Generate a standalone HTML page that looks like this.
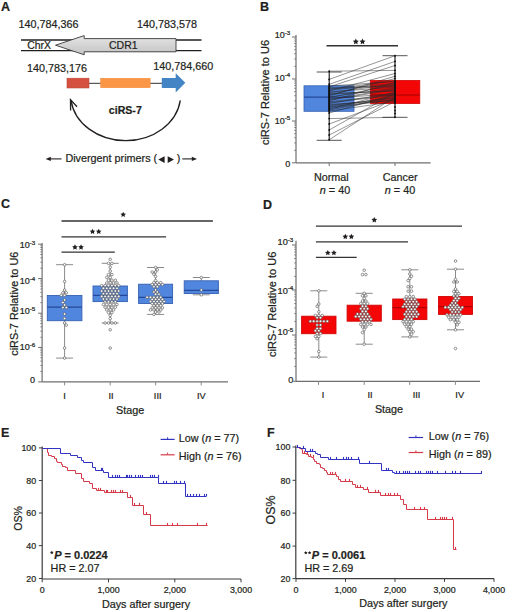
<!DOCTYPE html>
<html><head><meta charset="utf-8"><style>
html,body{margin:0;padding:0;background:#fff;}
svg{display:block;font-family:"Liberation Sans", sans-serif;}
text{stroke:#231f20;stroke-width:0.22px;}
</style></head><body>
<svg width="520" height="612" viewBox="0 0 520 612">
<rect width="520" height="612" fill="#fff"/>
<text x="1.00" y="11.00" font-size="12.5" font-weight="bold" fill="#231f20">A</text>
<text x="18.50" y="28.40" font-size="10.8" fill="#231f20">140,784,366</text>
<text x="137.00" y="28.40" font-size="10.8" fill="#231f20">140,783,578</text>
<line x1="21.00" y1="40.00" x2="201.50" y2="40.00" stroke="#231f20" stroke-width="1.3" />
<line x1="21.00" y1="50.60" x2="201.50" y2="50.60" stroke="#231f20" stroke-width="1.3" />
<defs><linearGradient id="gg" x1="0" y1="0" x2="0" y2="1"><stop offset="0" stop-color="#e6e6e6"/><stop offset="0.5" stop-color="#d4d4d4"/><stop offset="1" stop-color="#c4c4c4"/></linearGradient></defs>
<polygon points="55.5,45.2 84.2,35.6 84.2,38.6 176,38.6 176,51.8 84.2,51.8 84.2,54.8" fill="url(#gg)" stroke="#3a3a3a" stroke-width="0.9"/>
<text x="27.20" y="49.40" font-size="10.5" fill="#231f20">ChrX</text>
<text x="109.00" y="48.80" font-size="10.5" fill="#231f20">CDR1</text>
<text x="27.00" y="71.60" font-size="10.8" fill="#231f20">140,783,176</text>
<text x="153.20" y="69.50" font-size="10.8" fill="#231f20">140,784,660</text>
<line x1="88.00" y1="83.30" x2="162.00" y2="83.30" stroke="#333" stroke-width="1" />
<rect x="67.00" y="78.20" width="22.00" height="9.80" fill="#d65040" stroke="#b8463a" stroke-width="0.6"/>
<rect x="100.50" y="78.20" width="49.70" height="9.60" fill="#fa9646" stroke="#ef8c40" stroke-width="0.4"/>
<polygon points="161.8,78 175.7,78 175.7,73.2 185.3,82.8 175.7,92.6 175.7,88 161.8,88" fill="#4385c4"/>
<path d="M180.3,100.4 A55.1,46.2 0 0 1 71,100.3" fill="none" stroke="#231f20" stroke-width="1.3"/>
<path d="M70.6,110.4 L70.5,99.6 L77,106.8" fill="none" stroke="#231f20" stroke-width="1.3" stroke-linejoin="miter"/>
<text x="108.80" y="114.20" font-size="10.6" font-weight="bold" fill="#231f20">ciRS-7</text>
<line x1="48.00" y1="158.90" x2="61.50" y2="158.90" stroke="#231f20" stroke-width="1.1" />
<polygon points="45.6,158.9 50.8,156.7 50.8,161.1" fill="#231f20"/>
<text x="65.40" y="162.40" font-size="10.8" fill="#231f20">Divergent primers (</text>
<polygon points="158.3,159.6 164.6,156.2 164.6,163.0" fill="#231f20"/>
<polygon points="174.0,159.6 167.7,156.2 167.7,163.0" fill="#231f20"/>
<text x="176.80" y="162.40" font-size="10.8" fill="#231f20">)</text>
<line x1="182.30" y1="158.90" x2="193.00" y2="158.90" stroke="#231f20" stroke-width="1.1" />
<polygon points="197,158.9 191.8,156.7 191.8,161.1" fill="#231f20"/>
<text x="260.00" y="11.00" font-size="12.5" font-weight="bold" fill="#231f20">B</text>
<line x1="296.00" y1="35.00" x2="296.00" y2="162.80" stroke="#6e6e6e" stroke-width="1.2" />
<line x1="292.00" y1="37.00" x2="296.00" y2="37.00" stroke="#6e6e6e" stroke-width="1" />
<line x1="292.00" y1="79.00" x2="296.00" y2="79.00" stroke="#6e6e6e" stroke-width="1" />
<line x1="292.00" y1="121.00" x2="296.00" y2="121.00" stroke="#6e6e6e" stroke-width="1" />
<text x="290.30" y="38.20" font-size="9" text-anchor="end" fill="#231f20">10<tspan font-size="6.2" dy="-3.6">-3</tspan></text>
<text x="290.30" y="81.00" font-size="9" text-anchor="end" fill="#231f20">10<tspan font-size="6.2" dy="-3.6">-4</tspan></text>
<text x="290.30" y="124.00" font-size="9" text-anchor="end" fill="#231f20">10<tspan font-size="6.2" dy="-3.6">-5</tspan></text>
<line x1="294.20" y1="66.36" x2="296.00" y2="66.36" stroke="#6e6e6e" stroke-width="0.8" />
<line x1="294.20" y1="58.96" x2="296.00" y2="58.96" stroke="#6e6e6e" stroke-width="0.8" />
<line x1="294.20" y1="53.71" x2="296.00" y2="53.71" stroke="#6e6e6e" stroke-width="0.8" />
<line x1="294.20" y1="49.64" x2="296.00" y2="49.64" stroke="#6e6e6e" stroke-width="0.8" />
<line x1="294.20" y1="46.32" x2="296.00" y2="46.32" stroke="#6e6e6e" stroke-width="0.8" />
<line x1="294.20" y1="43.51" x2="296.00" y2="43.51" stroke="#6e6e6e" stroke-width="0.8" />
<line x1="294.20" y1="41.07" x2="296.00" y2="41.07" stroke="#6e6e6e" stroke-width="0.8" />
<line x1="294.20" y1="38.92" x2="296.00" y2="38.92" stroke="#6e6e6e" stroke-width="0.8" />
<line x1="294.20" y1="108.36" x2="296.00" y2="108.36" stroke="#6e6e6e" stroke-width="0.8" />
<line x1="294.20" y1="100.96" x2="296.00" y2="100.96" stroke="#6e6e6e" stroke-width="0.8" />
<line x1="294.20" y1="95.71" x2="296.00" y2="95.71" stroke="#6e6e6e" stroke-width="0.8" />
<line x1="294.20" y1="91.64" x2="296.00" y2="91.64" stroke="#6e6e6e" stroke-width="0.8" />
<line x1="294.20" y1="88.32" x2="296.00" y2="88.32" stroke="#6e6e6e" stroke-width="0.8" />
<line x1="294.20" y1="85.51" x2="296.00" y2="85.51" stroke="#6e6e6e" stroke-width="0.8" />
<line x1="294.20" y1="83.07" x2="296.00" y2="83.07" stroke="#6e6e6e" stroke-width="0.8" />
<line x1="294.20" y1="80.92" x2="296.00" y2="80.92" stroke="#6e6e6e" stroke-width="0.8" />
<line x1="294.20" y1="150.36" x2="296.00" y2="150.36" stroke="#6e6e6e" stroke-width="0.8" />
<line x1="294.20" y1="142.96" x2="296.00" y2="142.96" stroke="#6e6e6e" stroke-width="0.8" />
<line x1="294.20" y1="137.71" x2="296.00" y2="137.71" stroke="#6e6e6e" stroke-width="0.8" />
<line x1="294.20" y1="133.64" x2="296.00" y2="133.64" stroke="#6e6e6e" stroke-width="0.8" />
<line x1="294.20" y1="130.32" x2="296.00" y2="130.32" stroke="#6e6e6e" stroke-width="0.8" />
<line x1="294.20" y1="127.51" x2="296.00" y2="127.51" stroke="#6e6e6e" stroke-width="0.8" />
<line x1="294.20" y1="125.07" x2="296.00" y2="125.07" stroke="#6e6e6e" stroke-width="0.8" />
<line x1="294.20" y1="122.92" x2="296.00" y2="122.92" stroke="#6e6e6e" stroke-width="0.8" />
<text x="290.30" y="167.20" font-size="9" text-anchor="end" fill="#231f20">0</text>
<line x1="292.00" y1="162.80" x2="296.00" y2="162.80" stroke="#6e6e6e" stroke-width="1" />
<line x1="296.00" y1="162.80" x2="430.60" y2="162.80" stroke="#6e6e6e" stroke-width="1.2" />
<line x1="329.20" y1="162.80" x2="329.20" y2="166.00" stroke="#6e6e6e" stroke-width="1" />
<line x1="395.00" y1="162.80" x2="395.00" y2="166.00" stroke="#6e6e6e" stroke-width="1" />
<text x="0" y="0" font-size="11" text-anchor="middle" fill="#231f20" transform="translate(268.70,92.50) rotate(-90)">ciRS-7 Relative to U6</text>
<text x="331.30" y="180.80" font-size="10.8" text-anchor="middle" fill="#231f20">Normal</text>
<text x="335.00" y="193.80" font-size="10.8" text-anchor="middle" fill="#231f20"><tspan font-style="italic">n</tspan> = 40</text>
<text x="400.20" y="180.80" font-size="10.8" text-anchor="middle" fill="#231f20">Cancer</text>
<text x="400.00" y="193.80" font-size="10.8" text-anchor="middle" fill="#231f20"><tspan font-style="italic">n</tspan> = 40</text>
<line x1="326.50" y1="45.80" x2="398.00" y2="45.80" stroke="#333" stroke-width="1.6" />
<polygon points="355.80,38.61 356.71,40.46 358.75,40.75 357.27,42.19 357.62,44.22 355.80,43.26 353.98,44.22 354.33,42.19 352.85,40.75 354.89,40.46" fill="#231f20"/>
<polygon points="362.50,38.61 363.41,40.46 365.45,40.75 363.97,42.19 364.32,44.22 362.50,43.26 360.68,44.22 361.03,42.19 359.55,40.75 361.59,40.46" fill="#231f20"/>
<rect x="304.00" y="85.80" width="50.00" height="25.50" fill="#5186df" stroke="#3560b0" stroke-width="0.8"/>
<line x1="304.00" y1="97.20" x2="354.00" y2="97.20" stroke="#24489a" stroke-width="1.2" />
<rect x="370.30" y="80.50" width="49.50" height="23.00" fill="#f50606" stroke="#d00606" stroke-width="0.8"/>
<line x1="370.30" y1="95.00" x2="419.80" y2="95.00" stroke="#a00000" stroke-width="1.2" />
<line x1="316.70" y1="72.00" x2="341.70" y2="72.00" stroke="#555" stroke-width="1" />
<line x1="316.70" y1="140.30" x2="341.70" y2="140.30" stroke="#555" stroke-width="1" />
<line x1="382.50" y1="55.70" x2="407.50" y2="55.70" stroke="#555" stroke-width="1" />
<line x1="382.50" y1="117.30" x2="407.50" y2="117.30" stroke="#555" stroke-width="1" />
<line x1="329.20" y1="71.20" x2="395.00" y2="70.40" stroke="#2a2a2a" stroke-width="0.5" />
<line x1="329.20" y1="79.40" x2="395.00" y2="55.70" stroke="#2a2a2a" stroke-width="0.5" />
<line x1="329.20" y1="84.30" x2="395.00" y2="61.40" stroke="#2a2a2a" stroke-width="0.5" />
<line x1="329.20" y1="91.00" x2="395.00" y2="73.50" stroke="#2a2a2a" stroke-width="0.5" />
<line x1="329.20" y1="86.00" x2="395.00" y2="81.60" stroke="#2a2a2a" stroke-width="0.5" />
<line x1="329.20" y1="95.17" x2="395.00" y2="78.50" stroke="#2a2a2a" stroke-width="0.5" />
<line x1="329.20" y1="86.83" x2="395.00" y2="65.50" stroke="#2a2a2a" stroke-width="0.5" />
<line x1="329.20" y1="91.83" x2="395.00" y2="87.20" stroke="#2a2a2a" stroke-width="0.5" />
<line x1="329.20" y1="87.67" x2="395.00" y2="85.60" stroke="#2a2a2a" stroke-width="0.5" />
<line x1="329.20" y1="89.33" x2="395.00" y2="80.80" stroke="#2a2a2a" stroke-width="0.5" />
<line x1="329.20" y1="99.33" x2="395.00" y2="88.80" stroke="#2a2a2a" stroke-width="0.5" />
<line x1="329.20" y1="96.83" x2="395.00" y2="88.00" stroke="#2a2a2a" stroke-width="0.5" />
<line x1="329.20" y1="88.50" x2="395.00" y2="86.40" stroke="#2a2a2a" stroke-width="0.5" />
<line x1="329.20" y1="93.50" x2="395.00" y2="91.20" stroke="#2a2a2a" stroke-width="0.5" />
<line x1="329.20" y1="96.00" x2="395.00" y2="76.20" stroke="#2a2a2a" stroke-width="0.5" />
<line x1="329.20" y1="90.17" x2="395.00" y2="83.20" stroke="#2a2a2a" stroke-width="0.5" />
<line x1="329.20" y1="100.17" x2="395.00" y2="89.60" stroke="#2a2a2a" stroke-width="0.5" />
<line x1="329.20" y1="101.00" x2="395.00" y2="82.40" stroke="#2a2a2a" stroke-width="0.5" />
<line x1="329.20" y1="97.67" x2="395.00" y2="84.80" stroke="#2a2a2a" stroke-width="0.5" />
<line x1="329.20" y1="92.67" x2="395.00" y2="84.00" stroke="#2a2a2a" stroke-width="0.5" />
<line x1="329.20" y1="103.50" x2="395.00" y2="92.80" stroke="#2a2a2a" stroke-width="0.5" />
<line x1="329.20" y1="98.50" x2="395.00" y2="93.60" stroke="#2a2a2a" stroke-width="0.5" />
<line x1="329.20" y1="94.33" x2="395.00" y2="90.40" stroke="#2a2a2a" stroke-width="0.5" />
<line x1="329.20" y1="105.17" x2="395.00" y2="98.40" stroke="#2a2a2a" stroke-width="0.5" />
<line x1="329.20" y1="107.67" x2="395.00" y2="96.00" stroke="#2a2a2a" stroke-width="0.5" />
<line x1="329.20" y1="106.83" x2="395.00" y2="100.00" stroke="#2a2a2a" stroke-width="0.5" />
<line x1="329.20" y1="109.33" x2="395.00" y2="92.00" stroke="#2a2a2a" stroke-width="0.5" />
<line x1="329.20" y1="102.67" x2="395.00" y2="95.20" stroke="#2a2a2a" stroke-width="0.5" />
<line x1="329.20" y1="110.17" x2="395.00" y2="96.80" stroke="#2a2a2a" stroke-width="0.5" />
<line x1="329.20" y1="101.83" x2="395.00" y2="94.40" stroke="#2a2a2a" stroke-width="0.5" />
<line x1="329.20" y1="106.00" x2="395.00" y2="97.60" stroke="#2a2a2a" stroke-width="0.5" />
<line x1="329.20" y1="104.33" x2="395.00" y2="100.80" stroke="#2a2a2a" stroke-width="0.5" />
<line x1="329.20" y1="108.50" x2="395.00" y2="99.20" stroke="#2a2a2a" stroke-width="0.5" />
<line x1="329.20" y1="111.00" x2="395.00" y2="101.60" stroke="#2a2a2a" stroke-width="0.5" />
<line x1="329.20" y1="113.00" x2="395.00" y2="94.40" stroke="#2a2a2a" stroke-width="0.5" />
<line x1="329.20" y1="118.60" x2="395.00" y2="117.30" stroke="#2a2a2a" stroke-width="0.5" />
<line x1="329.20" y1="124.00" x2="395.00" y2="99.20" stroke="#2a2a2a" stroke-width="0.5" />
<line x1="329.20" y1="130.00" x2="395.00" y2="92.80" stroke="#2a2a2a" stroke-width="0.5" />
<line x1="329.20" y1="135.00" x2="395.00" y2="101.60" stroke="#2a2a2a" stroke-width="0.5" />
<line x1="329.20" y1="139.80" x2="395.00" y2="96.80" stroke="#2a2a2a" stroke-width="0.5" />
<line x1="329.20" y1="71.20" x2="329.20" y2="139.80" stroke="#111" stroke-width="1.1" />
<line x1="395.00" y1="55.70" x2="395.00" y2="117.30" stroke="#111" stroke-width="1.1" />
<circle cx="329.2" cy="71.20" r="0.95" fill="#111"/>
<circle cx="395" cy="55.70" r="0.95" fill="#111"/>
<circle cx="329.2" cy="79.40" r="0.95" fill="#111"/>
<circle cx="395" cy="61.40" r="0.95" fill="#111"/>
<circle cx="329.2" cy="84.30" r="0.95" fill="#111"/>
<circle cx="395" cy="65.50" r="0.95" fill="#111"/>
<circle cx="329.2" cy="86.00" r="0.95" fill="#111"/>
<circle cx="395" cy="70.40" r="0.95" fill="#111"/>
<circle cx="329.2" cy="86.83" r="0.95" fill="#111"/>
<circle cx="395" cy="73.50" r="0.95" fill="#111"/>
<circle cx="329.2" cy="87.67" r="0.95" fill="#111"/>
<circle cx="395" cy="76.20" r="0.95" fill="#111"/>
<circle cx="329.2" cy="88.50" r="0.95" fill="#111"/>
<circle cx="395" cy="78.50" r="0.95" fill="#111"/>
<circle cx="329.2" cy="89.33" r="0.95" fill="#111"/>
<circle cx="395" cy="80.80" r="0.95" fill="#111"/>
<circle cx="329.2" cy="90.17" r="0.95" fill="#111"/>
<circle cx="395" cy="81.60" r="0.95" fill="#111"/>
<circle cx="329.2" cy="91.00" r="0.95" fill="#111"/>
<circle cx="395" cy="82.40" r="0.95" fill="#111"/>
<circle cx="329.2" cy="91.83" r="0.95" fill="#111"/>
<circle cx="395" cy="83.20" r="0.95" fill="#111"/>
<circle cx="329.2" cy="92.67" r="0.95" fill="#111"/>
<circle cx="395" cy="84.00" r="0.95" fill="#111"/>
<circle cx="329.2" cy="93.50" r="0.95" fill="#111"/>
<circle cx="395" cy="84.80" r="0.95" fill="#111"/>
<circle cx="329.2" cy="94.33" r="0.95" fill="#111"/>
<circle cx="395" cy="85.60" r="0.95" fill="#111"/>
<circle cx="329.2" cy="95.17" r="0.95" fill="#111"/>
<circle cx="395" cy="86.40" r="0.95" fill="#111"/>
<circle cx="329.2" cy="96.00" r="0.95" fill="#111"/>
<circle cx="395" cy="87.20" r="0.95" fill="#111"/>
<circle cx="329.2" cy="96.83" r="0.95" fill="#111"/>
<circle cx="395" cy="88.00" r="0.95" fill="#111"/>
<circle cx="329.2" cy="97.67" r="0.95" fill="#111"/>
<circle cx="395" cy="88.80" r="0.95" fill="#111"/>
<circle cx="329.2" cy="98.50" r="0.95" fill="#111"/>
<circle cx="395" cy="89.60" r="0.95" fill="#111"/>
<circle cx="329.2" cy="99.33" r="0.95" fill="#111"/>
<circle cx="395" cy="90.40" r="0.95" fill="#111"/>
<circle cx="329.2" cy="100.17" r="0.95" fill="#111"/>
<circle cx="395" cy="91.20" r="0.95" fill="#111"/>
<circle cx="329.2" cy="101.00" r="0.95" fill="#111"/>
<circle cx="395" cy="92.00" r="0.95" fill="#111"/>
<circle cx="329.2" cy="101.83" r="0.95" fill="#111"/>
<circle cx="395" cy="92.80" r="0.95" fill="#111"/>
<circle cx="329.2" cy="102.67" r="0.95" fill="#111"/>
<circle cx="395" cy="93.60" r="0.95" fill="#111"/>
<circle cx="329.2" cy="103.50" r="0.95" fill="#111"/>
<circle cx="395" cy="94.40" r="0.95" fill="#111"/>
<circle cx="329.2" cy="104.33" r="0.95" fill="#111"/>
<circle cx="395" cy="95.20" r="0.95" fill="#111"/>
<circle cx="329.2" cy="105.17" r="0.95" fill="#111"/>
<circle cx="395" cy="96.00" r="0.95" fill="#111"/>
<circle cx="329.2" cy="106.00" r="0.95" fill="#111"/>
<circle cx="395" cy="96.80" r="0.95" fill="#111"/>
<circle cx="329.2" cy="106.83" r="0.95" fill="#111"/>
<circle cx="395" cy="97.60" r="0.95" fill="#111"/>
<circle cx="329.2" cy="107.67" r="0.95" fill="#111"/>
<circle cx="395" cy="98.40" r="0.95" fill="#111"/>
<circle cx="329.2" cy="108.50" r="0.95" fill="#111"/>
<circle cx="395" cy="99.20" r="0.95" fill="#111"/>
<circle cx="329.2" cy="109.33" r="0.95" fill="#111"/>
<circle cx="395" cy="100.00" r="0.95" fill="#111"/>
<circle cx="329.2" cy="110.17" r="0.95" fill="#111"/>
<circle cx="395" cy="100.80" r="0.95" fill="#111"/>
<circle cx="329.2" cy="111.00" r="0.95" fill="#111"/>
<circle cx="395" cy="101.60" r="0.95" fill="#111"/>
<circle cx="329.2" cy="113.00" r="0.95" fill="#111"/>
<circle cx="395" cy="102.40" r="0.95" fill="#111"/>
<circle cx="329.2" cy="118.60" r="0.95" fill="#111"/>
<circle cx="395" cy="103.20" r="0.95" fill="#111"/>
<circle cx="329.2" cy="124.00" r="0.95" fill="#111"/>
<circle cx="395" cy="107.00" r="0.95" fill="#111"/>
<circle cx="329.2" cy="130.00" r="0.95" fill="#111"/>
<circle cx="395" cy="110.50" r="0.95" fill="#111"/>
<circle cx="329.2" cy="135.00" r="0.95" fill="#111"/>
<circle cx="395" cy="113.50" r="0.95" fill="#111"/>
<circle cx="329.2" cy="139.80" r="0.95" fill="#111"/>
<circle cx="395" cy="117.30" r="0.95" fill="#111"/>
<text x="1.00" y="208.30" font-size="12.5" font-weight="bold" fill="#231f20">C</text>
<line x1="42.10" y1="243.00" x2="42.10" y2="381.90" stroke="#6e6e6e" stroke-width="1.2" />
<line x1="38.10" y1="244.20" x2="42.10" y2="244.20" stroke="#6e6e6e" stroke-width="1" />
<line x1="38.10" y1="278.60" x2="42.10" y2="278.60" stroke="#6e6e6e" stroke-width="1" />
<line x1="38.10" y1="313.20" x2="42.10" y2="313.20" stroke="#6e6e6e" stroke-width="1" />
<line x1="38.10" y1="347.40" x2="42.10" y2="347.40" stroke="#6e6e6e" stroke-width="1" />
<text x="35.20" y="248.30" font-size="9" text-anchor="end" fill="#231f20">10<tspan font-size="6.2" dy="-3.6">-3</tspan></text>
<text x="35.20" y="284.30" font-size="9" text-anchor="end" fill="#231f20">10<tspan font-size="6.2" dy="-3.6">-4</tspan></text>
<text x="35.20" y="314.20" font-size="9" text-anchor="end" fill="#231f20">10<tspan font-size="6.2" dy="-3.6">-5</tspan></text>
<text x="35.20" y="350.40" font-size="9" text-anchor="end" fill="#231f20">10<tspan font-size="6.2" dy="-3.6">-6</tspan></text>
<line x1="40.30" y1="268.24" x2="42.10" y2="268.24" stroke="#6e6e6e" stroke-width="0.8" />
<line x1="40.30" y1="262.19" x2="42.10" y2="262.19" stroke="#6e6e6e" stroke-width="0.8" />
<line x1="40.30" y1="257.89" x2="42.10" y2="257.89" stroke="#6e6e6e" stroke-width="0.8" />
<line x1="40.30" y1="254.56" x2="42.10" y2="254.56" stroke="#6e6e6e" stroke-width="0.8" />
<line x1="40.30" y1="251.83" x2="42.10" y2="251.83" stroke="#6e6e6e" stroke-width="0.8" />
<line x1="40.30" y1="249.53" x2="42.10" y2="249.53" stroke="#6e6e6e" stroke-width="0.8" />
<line x1="40.30" y1="247.53" x2="42.10" y2="247.53" stroke="#6e6e6e" stroke-width="0.8" />
<line x1="40.30" y1="245.77" x2="42.10" y2="245.77" stroke="#6e6e6e" stroke-width="0.8" />
<line x1="40.30" y1="302.64" x2="42.10" y2="302.64" stroke="#6e6e6e" stroke-width="0.8" />
<line x1="40.30" y1="296.59" x2="42.10" y2="296.59" stroke="#6e6e6e" stroke-width="0.8" />
<line x1="40.30" y1="292.29" x2="42.10" y2="292.29" stroke="#6e6e6e" stroke-width="0.8" />
<line x1="40.30" y1="288.96" x2="42.10" y2="288.96" stroke="#6e6e6e" stroke-width="0.8" />
<line x1="40.30" y1="286.23" x2="42.10" y2="286.23" stroke="#6e6e6e" stroke-width="0.8" />
<line x1="40.30" y1="283.93" x2="42.10" y2="283.93" stroke="#6e6e6e" stroke-width="0.8" />
<line x1="40.30" y1="281.93" x2="42.10" y2="281.93" stroke="#6e6e6e" stroke-width="0.8" />
<line x1="40.30" y1="280.17" x2="42.10" y2="280.17" stroke="#6e6e6e" stroke-width="0.8" />
<line x1="40.30" y1="337.24" x2="42.10" y2="337.24" stroke="#6e6e6e" stroke-width="0.8" />
<line x1="40.30" y1="331.19" x2="42.10" y2="331.19" stroke="#6e6e6e" stroke-width="0.8" />
<line x1="40.30" y1="326.89" x2="42.10" y2="326.89" stroke="#6e6e6e" stroke-width="0.8" />
<line x1="40.30" y1="323.56" x2="42.10" y2="323.56" stroke="#6e6e6e" stroke-width="0.8" />
<line x1="40.30" y1="320.83" x2="42.10" y2="320.83" stroke="#6e6e6e" stroke-width="0.8" />
<line x1="40.30" y1="318.53" x2="42.10" y2="318.53" stroke="#6e6e6e" stroke-width="0.8" />
<line x1="40.30" y1="316.53" x2="42.10" y2="316.53" stroke="#6e6e6e" stroke-width="0.8" />
<line x1="40.30" y1="314.77" x2="42.10" y2="314.77" stroke="#6e6e6e" stroke-width="0.8" />
<line x1="40.30" y1="371.44" x2="42.10" y2="371.44" stroke="#6e6e6e" stroke-width="0.8" />
<line x1="40.30" y1="365.39" x2="42.10" y2="365.39" stroke="#6e6e6e" stroke-width="0.8" />
<line x1="40.30" y1="361.09" x2="42.10" y2="361.09" stroke="#6e6e6e" stroke-width="0.8" />
<line x1="40.30" y1="357.76" x2="42.10" y2="357.76" stroke="#6e6e6e" stroke-width="0.8" />
<line x1="40.30" y1="355.03" x2="42.10" y2="355.03" stroke="#6e6e6e" stroke-width="0.8" />
<line x1="40.30" y1="352.73" x2="42.10" y2="352.73" stroke="#6e6e6e" stroke-width="0.8" />
<line x1="40.30" y1="350.73" x2="42.10" y2="350.73" stroke="#6e6e6e" stroke-width="0.8" />
<line x1="40.30" y1="348.97" x2="42.10" y2="348.97" stroke="#6e6e6e" stroke-width="0.8" />
<text x="35.00" y="382.60" font-size="9" text-anchor="end" fill="#231f20">0</text>
<line x1="38.10" y1="381.90" x2="42.10" y2="381.90" stroke="#6e6e6e" stroke-width="1" />
<line x1="42.10" y1="381.90" x2="228.00" y2="381.90" stroke="#6e6e6e" stroke-width="1.2" />
<line x1="64.60" y1="381.90" x2="64.60" y2="385.40" stroke="#8a8a8a" stroke-width="1" />
<text x="64.60" y="398.50" font-size="9.2" text-anchor="middle" fill="#231f20">I</text>
<line x1="110.20" y1="381.90" x2="110.20" y2="385.40" stroke="#8a8a8a" stroke-width="1" />
<text x="111.00" y="398.50" font-size="9.2" text-anchor="middle" fill="#231f20">II</text>
<line x1="155.60" y1="381.90" x2="155.60" y2="385.40" stroke="#8a8a8a" stroke-width="1" />
<text x="157.70" y="398.50" font-size="9.2" text-anchor="middle" fill="#231f20">III</text>
<line x1="201.20" y1="381.90" x2="201.20" y2="385.40" stroke="#8a8a8a" stroke-width="1" />
<text x="201.30" y="398.50" font-size="9.2" text-anchor="middle" fill="#231f20">IV</text>
<text x="130.20" y="413.80" font-size="10.8" text-anchor="middle" fill="#231f20">Stage</text>
<text x="0" y="0" font-size="10.9" text-anchor="middle" fill="#231f20" transform="translate(17.60,303.70) rotate(-90)">ciRS-7 Relative to U6</text>
<line x1="61.50" y1="221.00" x2="212.90" y2="221.00" stroke="#333" stroke-width="1.3" />
<polygon points="123.20,211.65 124.07,213.40 126.01,213.68 124.60,215.05 124.93,216.98 123.20,216.07 121.47,216.98 121.80,215.05 120.39,213.68 122.33,213.40" fill="#231f20"/>
<line x1="61.50" y1="236.80" x2="166.10" y2="236.80" stroke="#333" stroke-width="1.3" />
<polygon points="92.50,228.65 93.37,230.40 95.31,230.68 93.90,232.05 94.23,233.98 92.50,233.07 90.77,233.98 91.10,232.05 89.69,230.68 91.63,230.40" fill="#231f20"/>
<polygon points="98.70,228.65 99.57,230.40 101.51,230.68 100.10,232.05 100.43,233.98 98.70,233.07 96.97,233.98 97.30,232.05 95.89,230.68 97.83,230.40" fill="#231f20"/>
<line x1="61.50" y1="252.20" x2="114.80" y2="252.20" stroke="#333" stroke-width="1.3" />
<polygon points="74.95,244.34 75.82,246.10 77.76,246.38 76.35,247.75 76.68,249.68 74.95,248.77 73.22,249.68 73.55,247.75 72.14,246.38 74.08,246.10" fill="#231f20"/>
<polygon points="81.05,244.34 81.92,246.10 83.86,246.38 82.45,247.75 82.78,249.68 81.05,248.77 79.32,249.68 79.65,247.75 78.24,246.38 80.18,246.10" fill="#231f20"/>
<line x1="64.60" y1="264.70" x2="64.60" y2="358.10" stroke="#8a8a8a" stroke-width="1" />
<rect x="47.30" y="295.50" width="34.60" height="25.20" fill="#5186df" stroke="#3560b0" stroke-width="0.9"/>
<line x1="47.30" y1="307.20" x2="81.90" y2="307.20" stroke="#24489a" stroke-width="1.2" />
<line x1="56.10" y1="264.70" x2="73.10" y2="264.70" stroke="#8a8a8a" stroke-width="1" />
<line x1="56.10" y1="358.10" x2="73.10" y2="358.10" stroke="#8a8a8a" stroke-width="1" />
<circle cx="64.60" cy="264.70" r="1.3" fill="#fff" stroke="#5a5a5a" stroke-width="0.65"/>
<circle cx="64.60" cy="281.50" r="1.3" fill="#fff" stroke="#5a5a5a" stroke-width="0.65"/>
<circle cx="64.60" cy="290.00" r="1.3" fill="#fff" stroke="#5a5a5a" stroke-width="0.65"/>
<circle cx="62.90" cy="292.80" r="1.3" fill="#fff" stroke="#5a5a5a" stroke-width="0.65"/>
<circle cx="66.30" cy="292.80" r="1.3" fill="#fff" stroke="#5a5a5a" stroke-width="0.65"/>
<circle cx="64.60" cy="295.30" r="1.3" fill="#fff" stroke="#5a5a5a" stroke-width="0.65"/>
<circle cx="61.20" cy="295.30" r="1.3" fill="#fff" stroke="#5a5a5a" stroke-width="0.65"/>
<circle cx="64.60" cy="300.00" r="1.3" fill="#fff" stroke="#5a5a5a" stroke-width="0.65"/>
<circle cx="62.90" cy="302.50" r="1.3" fill="#fff" stroke="#5a5a5a" stroke-width="0.65"/>
<circle cx="64.60" cy="305.00" r="1.3" fill="#fff" stroke="#5a5a5a" stroke-width="0.65"/>
<circle cx="62.90" cy="307.50" r="1.3" fill="#fff" stroke="#5a5a5a" stroke-width="0.65"/>
<circle cx="66.30" cy="307.50" r="1.3" fill="#fff" stroke="#5a5a5a" stroke-width="0.65"/>
<circle cx="64.60" cy="314.00" r="1.3" fill="#fff" stroke="#5a5a5a" stroke-width="0.65"/>
<circle cx="64.60" cy="318.50" r="1.3" fill="#fff" stroke="#5a5a5a" stroke-width="0.65"/>
<circle cx="64.60" cy="323.00" r="1.3" fill="#fff" stroke="#5a5a5a" stroke-width="0.65"/>
<circle cx="66.30" cy="325.20" r="1.3" fill="#fff" stroke="#5a5a5a" stroke-width="0.65"/>
<circle cx="64.60" cy="348.10" r="1.3" fill="#fff" stroke="#5a5a5a" stroke-width="0.65"/>
<circle cx="64.60" cy="358.10" r="1.3" fill="#fff" stroke="#5a5a5a" stroke-width="0.65"/>
<line x1="110.20" y1="263.30" x2="110.20" y2="323.00" stroke="#8a8a8a" stroke-width="1" />
<rect x="93.00" y="286.00" width="34.40" height="15.60" fill="#5186df" stroke="#3560b0" stroke-width="0.9"/>
<line x1="93.00" y1="295.30" x2="127.40" y2="295.30" stroke="#24489a" stroke-width="1.2" />
<line x1="101.70" y1="263.30" x2="118.70" y2="263.30" stroke="#8a8a8a" stroke-width="1" />
<line x1="101.70" y1="323.00" x2="118.70" y2="323.00" stroke="#8a8a8a" stroke-width="1" />
<circle cx="110.20" cy="259.30" r="1.3" fill="#fff" stroke="#5a5a5a" stroke-width="0.65"/>
<circle cx="108.50" cy="263.40" r="1.3" fill="#fff" stroke="#5a5a5a" stroke-width="0.65"/>
<circle cx="111.90" cy="263.40" r="1.3" fill="#fff" stroke="#5a5a5a" stroke-width="0.65"/>
<circle cx="110.20" cy="267.30" r="1.3" fill="#fff" stroke="#5a5a5a" stroke-width="0.65"/>
<circle cx="110.20" cy="271.00" r="1.3" fill="#fff" stroke="#5a5a5a" stroke-width="0.65"/>
<circle cx="111.90" cy="274.60" r="1.3" fill="#fff" stroke="#5a5a5a" stroke-width="0.65"/>
<circle cx="108.50" cy="274.60" r="1.3" fill="#fff" stroke="#5a5a5a" stroke-width="0.65"/>
<circle cx="110.20" cy="277.40" r="1.3" fill="#fff" stroke="#5a5a5a" stroke-width="0.65"/>
<circle cx="106.80" cy="277.40" r="1.3" fill="#fff" stroke="#5a5a5a" stroke-width="0.65"/>
<circle cx="111.90" cy="280.20" r="1.3" fill="#fff" stroke="#5a5a5a" stroke-width="0.65"/>
<circle cx="108.50" cy="280.20" r="1.3" fill="#fff" stroke="#5a5a5a" stroke-width="0.65"/>
<circle cx="115.30" cy="280.20" r="1.3" fill="#fff" stroke="#5a5a5a" stroke-width="0.65"/>
<circle cx="110.20" cy="282.90" r="1.3" fill="#fff" stroke="#5a5a5a" stroke-width="0.65"/>
<circle cx="106.80" cy="282.90" r="1.3" fill="#fff" stroke="#5a5a5a" stroke-width="0.65"/>
<circle cx="113.60" cy="282.90" r="1.3" fill="#fff" stroke="#5a5a5a" stroke-width="0.65"/>
<circle cx="117.00" cy="282.90" r="1.3" fill="#fff" stroke="#5a5a5a" stroke-width="0.65"/>
<circle cx="111.90" cy="285.60" r="1.3" fill="#fff" stroke="#5a5a5a" stroke-width="0.65"/>
<circle cx="108.50" cy="285.60" r="1.3" fill="#fff" stroke="#5a5a5a" stroke-width="0.65"/>
<circle cx="105.10" cy="285.60" r="1.3" fill="#fff" stroke="#5a5a5a" stroke-width="0.65"/>
<circle cx="115.30" cy="285.60" r="1.3" fill="#fff" stroke="#5a5a5a" stroke-width="0.65"/>
<circle cx="101.70" cy="285.60" r="1.3" fill="#fff" stroke="#5a5a5a" stroke-width="0.65"/>
<circle cx="118.70" cy="285.60" r="1.3" fill="#fff" stroke="#5a5a5a" stroke-width="0.65"/>
<circle cx="110.20" cy="288.30" r="1.3" fill="#fff" stroke="#5a5a5a" stroke-width="0.65"/>
<circle cx="106.80" cy="288.30" r="1.3" fill="#fff" stroke="#5a5a5a" stroke-width="0.65"/>
<circle cx="113.60" cy="288.30" r="1.3" fill="#fff" stroke="#5a5a5a" stroke-width="0.65"/>
<circle cx="103.40" cy="288.30" r="1.3" fill="#fff" stroke="#5a5a5a" stroke-width="0.65"/>
<circle cx="117.00" cy="288.30" r="1.3" fill="#fff" stroke="#5a5a5a" stroke-width="0.65"/>
<circle cx="111.90" cy="291.00" r="1.3" fill="#fff" stroke="#5a5a5a" stroke-width="0.65"/>
<circle cx="108.50" cy="291.00" r="1.3" fill="#fff" stroke="#5a5a5a" stroke-width="0.65"/>
<circle cx="105.10" cy="291.00" r="1.3" fill="#fff" stroke="#5a5a5a" stroke-width="0.65"/>
<circle cx="115.30" cy="291.00" r="1.3" fill="#fff" stroke="#5a5a5a" stroke-width="0.65"/>
<circle cx="118.70" cy="291.00" r="1.3" fill="#fff" stroke="#5a5a5a" stroke-width="0.65"/>
<circle cx="101.70" cy="291.00" r="1.3" fill="#fff" stroke="#5a5a5a" stroke-width="0.65"/>
<circle cx="110.20" cy="293.70" r="1.3" fill="#fff" stroke="#5a5a5a" stroke-width="0.65"/>
<circle cx="106.80" cy="293.70" r="1.3" fill="#fff" stroke="#5a5a5a" stroke-width="0.65"/>
<circle cx="113.60" cy="293.70" r="1.3" fill="#fff" stroke="#5a5a5a" stroke-width="0.65"/>
<circle cx="103.40" cy="293.70" r="1.3" fill="#fff" stroke="#5a5a5a" stroke-width="0.65"/>
<circle cx="117.00" cy="293.70" r="1.3" fill="#fff" stroke="#5a5a5a" stroke-width="0.65"/>
<circle cx="111.90" cy="296.40" r="1.3" fill="#fff" stroke="#5a5a5a" stroke-width="0.65"/>
<circle cx="108.50" cy="296.40" r="1.3" fill="#fff" stroke="#5a5a5a" stroke-width="0.65"/>
<circle cx="105.10" cy="296.40" r="1.3" fill="#fff" stroke="#5a5a5a" stroke-width="0.65"/>
<circle cx="115.30" cy="296.40" r="1.3" fill="#fff" stroke="#5a5a5a" stroke-width="0.65"/>
<circle cx="118.70" cy="296.40" r="1.3" fill="#fff" stroke="#5a5a5a" stroke-width="0.65"/>
<circle cx="101.70" cy="296.40" r="1.3" fill="#fff" stroke="#5a5a5a" stroke-width="0.65"/>
<circle cx="110.20" cy="299.10" r="1.3" fill="#fff" stroke="#5a5a5a" stroke-width="0.65"/>
<circle cx="113.60" cy="299.10" r="1.3" fill="#fff" stroke="#5a5a5a" stroke-width="0.65"/>
<circle cx="106.80" cy="299.10" r="1.3" fill="#fff" stroke="#5a5a5a" stroke-width="0.65"/>
<circle cx="103.40" cy="299.10" r="1.3" fill="#fff" stroke="#5a5a5a" stroke-width="0.65"/>
<circle cx="117.00" cy="299.10" r="1.3" fill="#fff" stroke="#5a5a5a" stroke-width="0.65"/>
<circle cx="108.50" cy="301.80" r="1.3" fill="#fff" stroke="#5a5a5a" stroke-width="0.65"/>
<circle cx="111.90" cy="301.80" r="1.3" fill="#fff" stroke="#5a5a5a" stroke-width="0.65"/>
<circle cx="105.10" cy="301.80" r="1.3" fill="#fff" stroke="#5a5a5a" stroke-width="0.65"/>
<circle cx="115.30" cy="301.80" r="1.3" fill="#fff" stroke="#5a5a5a" stroke-width="0.65"/>
<circle cx="110.20" cy="304.50" r="1.3" fill="#fff" stroke="#5a5a5a" stroke-width="0.65"/>
<circle cx="113.60" cy="304.50" r="1.3" fill="#fff" stroke="#5a5a5a" stroke-width="0.65"/>
<circle cx="106.80" cy="304.50" r="1.3" fill="#fff" stroke="#5a5a5a" stroke-width="0.65"/>
<circle cx="117.00" cy="304.50" r="1.3" fill="#fff" stroke="#5a5a5a" stroke-width="0.65"/>
<circle cx="103.40" cy="304.50" r="1.3" fill="#fff" stroke="#5a5a5a" stroke-width="0.65"/>
<circle cx="108.50" cy="307.20" r="1.3" fill="#fff" stroke="#5a5a5a" stroke-width="0.65"/>
<circle cx="111.90" cy="307.20" r="1.3" fill="#fff" stroke="#5a5a5a" stroke-width="0.65"/>
<circle cx="105.10" cy="307.20" r="1.3" fill="#fff" stroke="#5a5a5a" stroke-width="0.65"/>
<circle cx="115.30" cy="307.20" r="1.3" fill="#fff" stroke="#5a5a5a" stroke-width="0.65"/>
<circle cx="110.20" cy="309.90" r="1.3" fill="#fff" stroke="#5a5a5a" stroke-width="0.65"/>
<circle cx="113.60" cy="309.90" r="1.3" fill="#fff" stroke="#5a5a5a" stroke-width="0.65"/>
<circle cx="106.80" cy="309.90" r="1.3" fill="#fff" stroke="#5a5a5a" stroke-width="0.65"/>
<circle cx="111.90" cy="312.60" r="1.3" fill="#fff" stroke="#5a5a5a" stroke-width="0.65"/>
<circle cx="108.50" cy="312.60" r="1.3" fill="#fff" stroke="#5a5a5a" stroke-width="0.65"/>
<circle cx="110.20" cy="315.30" r="1.3" fill="#fff" stroke="#5a5a5a" stroke-width="0.65"/>
<circle cx="110.20" cy="318.60" r="1.3" fill="#fff" stroke="#5a5a5a" stroke-width="0.65"/>
<circle cx="111.90" cy="323.00" r="1.3" fill="#fff" stroke="#5a5a5a" stroke-width="0.65"/>
<circle cx="108.50" cy="323.00" r="1.3" fill="#fff" stroke="#5a5a5a" stroke-width="0.65"/>
<circle cx="105.10" cy="323.00" r="1.3" fill="#fff" stroke="#5a5a5a" stroke-width="0.65"/>
<circle cx="115.30" cy="323.00" r="1.3" fill="#fff" stroke="#5a5a5a" stroke-width="0.65"/>
<circle cx="110.20" cy="329.80" r="1.3" fill="#fff" stroke="#5a5a5a" stroke-width="0.65"/>
<circle cx="110.20" cy="348.10" r="1.3" fill="#fff" stroke="#5a5a5a" stroke-width="0.65"/>
<line x1="155.60" y1="267.50" x2="155.60" y2="314.40" stroke="#8a8a8a" stroke-width="1" />
<rect x="138.60" y="284.20" width="34.00" height="19.30" fill="#5186df" stroke="#3560b0" stroke-width="0.9"/>
<line x1="138.60" y1="297.30" x2="172.60" y2="297.30" stroke="#24489a" stroke-width="1.2" />
<line x1="147.10" y1="267.50" x2="164.10" y2="267.50" stroke="#8a8a8a" stroke-width="1" />
<line x1="147.10" y1="314.40" x2="164.10" y2="314.40" stroke="#8a8a8a" stroke-width="1" />
<circle cx="155.60" cy="267.50" r="1.3" fill="#fff" stroke="#5a5a5a" stroke-width="0.65"/>
<circle cx="157.30" cy="269.80" r="1.3" fill="#fff" stroke="#5a5a5a" stroke-width="0.65"/>
<circle cx="155.60" cy="272.00" r="1.3" fill="#fff" stroke="#5a5a5a" stroke-width="0.65"/>
<circle cx="152.20" cy="272.00" r="1.3" fill="#fff" stroke="#5a5a5a" stroke-width="0.65"/>
<circle cx="153.90" cy="274.20" r="1.3" fill="#fff" stroke="#5a5a5a" stroke-width="0.65"/>
<circle cx="155.60" cy="276.40" r="1.3" fill="#fff" stroke="#5a5a5a" stroke-width="0.65"/>
<circle cx="155.60" cy="280.60" r="1.3" fill="#fff" stroke="#5a5a5a" stroke-width="0.65"/>
<circle cx="153.90" cy="282.60" r="1.3" fill="#fff" stroke="#5a5a5a" stroke-width="0.65"/>
<circle cx="157.30" cy="282.60" r="1.3" fill="#fff" stroke="#5a5a5a" stroke-width="0.65"/>
<circle cx="160.70" cy="282.60" r="1.3" fill="#fff" stroke="#5a5a5a" stroke-width="0.65"/>
<circle cx="155.60" cy="284.60" r="1.3" fill="#fff" stroke="#5a5a5a" stroke-width="0.65"/>
<circle cx="159.00" cy="284.60" r="1.3" fill="#fff" stroke="#5a5a5a" stroke-width="0.65"/>
<circle cx="152.20" cy="284.60" r="1.3" fill="#fff" stroke="#5a5a5a" stroke-width="0.65"/>
<circle cx="162.40" cy="284.60" r="1.3" fill="#fff" stroke="#5a5a5a" stroke-width="0.65"/>
<circle cx="153.90" cy="286.80" r="1.3" fill="#fff" stroke="#5a5a5a" stroke-width="0.65"/>
<circle cx="157.30" cy="286.80" r="1.3" fill="#fff" stroke="#5a5a5a" stroke-width="0.65"/>
<circle cx="155.60" cy="290.00" r="1.3" fill="#fff" stroke="#5a5a5a" stroke-width="0.65"/>
<circle cx="157.30" cy="292.00" r="1.3" fill="#fff" stroke="#5a5a5a" stroke-width="0.65"/>
<circle cx="153.90" cy="292.00" r="1.3" fill="#fff" stroke="#5a5a5a" stroke-width="0.65"/>
<circle cx="155.60" cy="294.20" r="1.3" fill="#fff" stroke="#5a5a5a" stroke-width="0.65"/>
<circle cx="159.00" cy="294.20" r="1.3" fill="#fff" stroke="#5a5a5a" stroke-width="0.65"/>
<circle cx="157.30" cy="297.30" r="1.3" fill="#fff" stroke="#5a5a5a" stroke-width="0.65"/>
<circle cx="153.90" cy="297.30" r="1.3" fill="#fff" stroke="#5a5a5a" stroke-width="0.65"/>
<circle cx="150.50" cy="297.30" r="1.3" fill="#fff" stroke="#5a5a5a" stroke-width="0.65"/>
<circle cx="160.70" cy="297.30" r="1.3" fill="#fff" stroke="#5a5a5a" stroke-width="0.65"/>
<circle cx="147.10" cy="297.30" r="1.3" fill="#fff" stroke="#5a5a5a" stroke-width="0.65"/>
<circle cx="155.60" cy="299.40" r="1.3" fill="#fff" stroke="#5a5a5a" stroke-width="0.65"/>
<circle cx="152.20" cy="299.40" r="1.3" fill="#fff" stroke="#5a5a5a" stroke-width="0.65"/>
<circle cx="159.00" cy="299.40" r="1.3" fill="#fff" stroke="#5a5a5a" stroke-width="0.65"/>
<circle cx="162.40" cy="299.40" r="1.3" fill="#fff" stroke="#5a5a5a" stroke-width="0.65"/>
<circle cx="157.30" cy="301.50" r="1.3" fill="#fff" stroke="#5a5a5a" stroke-width="0.65"/>
<circle cx="153.90" cy="301.50" r="1.3" fill="#fff" stroke="#5a5a5a" stroke-width="0.65"/>
<circle cx="150.50" cy="301.50" r="1.3" fill="#fff" stroke="#5a5a5a" stroke-width="0.65"/>
<circle cx="160.70" cy="301.50" r="1.3" fill="#fff" stroke="#5a5a5a" stroke-width="0.65"/>
<circle cx="164.10" cy="301.50" r="1.3" fill="#fff" stroke="#5a5a5a" stroke-width="0.65"/>
<circle cx="155.60" cy="303.60" r="1.3" fill="#fff" stroke="#5a5a5a" stroke-width="0.65"/>
<circle cx="152.20" cy="303.60" r="1.3" fill="#fff" stroke="#5a5a5a" stroke-width="0.65"/>
<circle cx="159.00" cy="303.60" r="1.3" fill="#fff" stroke="#5a5a5a" stroke-width="0.65"/>
<circle cx="162.40" cy="303.60" r="1.3" fill="#fff" stroke="#5a5a5a" stroke-width="0.65"/>
<circle cx="153.90" cy="305.70" r="1.3" fill="#fff" stroke="#5a5a5a" stroke-width="0.65"/>
<circle cx="157.30" cy="305.70" r="1.3" fill="#fff" stroke="#5a5a5a" stroke-width="0.65"/>
<circle cx="160.70" cy="305.70" r="1.3" fill="#fff" stroke="#5a5a5a" stroke-width="0.65"/>
<circle cx="155.60" cy="307.80" r="1.3" fill="#fff" stroke="#5a5a5a" stroke-width="0.65"/>
<circle cx="159.00" cy="307.80" r="1.3" fill="#fff" stroke="#5a5a5a" stroke-width="0.65"/>
<circle cx="152.20" cy="307.80" r="1.3" fill="#fff" stroke="#5a5a5a" stroke-width="0.65"/>
<circle cx="162.40" cy="307.80" r="1.3" fill="#fff" stroke="#5a5a5a" stroke-width="0.65"/>
<circle cx="153.90" cy="309.90" r="1.3" fill="#fff" stroke="#5a5a5a" stroke-width="0.65"/>
<circle cx="157.30" cy="309.90" r="1.3" fill="#fff" stroke="#5a5a5a" stroke-width="0.65"/>
<circle cx="150.50" cy="309.90" r="1.3" fill="#fff" stroke="#5a5a5a" stroke-width="0.65"/>
<circle cx="160.70" cy="309.90" r="1.3" fill="#fff" stroke="#5a5a5a" stroke-width="0.65"/>
<circle cx="155.60" cy="312.00" r="1.3" fill="#fff" stroke="#5a5a5a" stroke-width="0.65"/>
<circle cx="159.00" cy="312.00" r="1.3" fill="#fff" stroke="#5a5a5a" stroke-width="0.65"/>
<circle cx="153.90" cy="314.40" r="1.3" fill="#fff" stroke="#5a5a5a" stroke-width="0.65"/>
<line x1="201.30" y1="277.50" x2="201.30" y2="294.80" stroke="#8a8a8a" stroke-width="1" />
<rect x="184.20" y="280.80" width="34.20" height="12.70" fill="#5186df" stroke="#3560b0" stroke-width="0.9"/>
<line x1="184.20" y1="290.40" x2="218.40" y2="290.40" stroke="#24489a" stroke-width="1.2" />
<line x1="192.80" y1="277.50" x2="209.80" y2="277.50" stroke="#8a8a8a" stroke-width="1" />
<line x1="192.80" y1="294.80" x2="209.80" y2="294.80" stroke="#8a8a8a" stroke-width="1" />
<circle cx="201.30" cy="277.50" r="1.3" fill="#fff" stroke="#5a5a5a" stroke-width="0.65"/>
<circle cx="201.30" cy="290.00" r="1.3" fill="#fff" stroke="#5a5a5a" stroke-width="0.65"/>
<circle cx="201.30" cy="294.80" r="1.3" fill="#fff" stroke="#5a5a5a" stroke-width="0.65"/>
<text x="263.00" y="208.50" font-size="12.5" font-weight="bold" fill="#231f20">D</text>
<line x1="296.00" y1="240.70" x2="296.00" y2="381.30" stroke="#6e6e6e" stroke-width="1.2" />
<line x1="292.00" y1="245.00" x2="296.00" y2="245.00" stroke="#6e6e6e" stroke-width="1" />
<line x1="292.00" y1="290.00" x2="296.00" y2="290.00" stroke="#6e6e6e" stroke-width="1" />
<line x1="292.00" y1="335.00" x2="296.00" y2="335.00" stroke="#6e6e6e" stroke-width="1" />
<text x="293.30" y="245.30" font-size="9.2" text-anchor="end" fill="#231f20">10<tspan font-size="6.2" dy="-3.6">-3</tspan></text>
<text x="293.30" y="293.50" font-size="9.2" text-anchor="end" fill="#231f20">10<tspan font-size="6.2" dy="-3.6">-4</tspan></text>
<text x="293.30" y="335.40" font-size="9.2" text-anchor="end" fill="#231f20">10<tspan font-size="6.2" dy="-3.6">-5</tspan></text>
<line x1="294.20" y1="276.45" x2="296.00" y2="276.45" stroke="#6e6e6e" stroke-width="0.8" />
<line x1="294.20" y1="268.53" x2="296.00" y2="268.53" stroke="#6e6e6e" stroke-width="0.8" />
<line x1="294.20" y1="262.91" x2="296.00" y2="262.91" stroke="#6e6e6e" stroke-width="0.8" />
<line x1="294.20" y1="258.55" x2="296.00" y2="258.55" stroke="#6e6e6e" stroke-width="0.8" />
<line x1="294.20" y1="254.98" x2="296.00" y2="254.98" stroke="#6e6e6e" stroke-width="0.8" />
<line x1="294.20" y1="251.97" x2="296.00" y2="251.97" stroke="#6e6e6e" stroke-width="0.8" />
<line x1="294.20" y1="249.36" x2="296.00" y2="249.36" stroke="#6e6e6e" stroke-width="0.8" />
<line x1="294.20" y1="247.06" x2="296.00" y2="247.06" stroke="#6e6e6e" stroke-width="0.8" />
<line x1="294.20" y1="321.45" x2="296.00" y2="321.45" stroke="#6e6e6e" stroke-width="0.8" />
<line x1="294.20" y1="313.53" x2="296.00" y2="313.53" stroke="#6e6e6e" stroke-width="0.8" />
<line x1="294.20" y1="307.91" x2="296.00" y2="307.91" stroke="#6e6e6e" stroke-width="0.8" />
<line x1="294.20" y1="303.55" x2="296.00" y2="303.55" stroke="#6e6e6e" stroke-width="0.8" />
<line x1="294.20" y1="299.98" x2="296.00" y2="299.98" stroke="#6e6e6e" stroke-width="0.8" />
<line x1="294.20" y1="296.97" x2="296.00" y2="296.97" stroke="#6e6e6e" stroke-width="0.8" />
<line x1="294.20" y1="294.36" x2="296.00" y2="294.36" stroke="#6e6e6e" stroke-width="0.8" />
<line x1="294.20" y1="292.06" x2="296.00" y2="292.06" stroke="#6e6e6e" stroke-width="0.8" />
<line x1="294.20" y1="366.45" x2="296.00" y2="366.45" stroke="#6e6e6e" stroke-width="0.8" />
<line x1="294.20" y1="358.53" x2="296.00" y2="358.53" stroke="#6e6e6e" stroke-width="0.8" />
<line x1="294.20" y1="352.91" x2="296.00" y2="352.91" stroke="#6e6e6e" stroke-width="0.8" />
<line x1="294.20" y1="348.55" x2="296.00" y2="348.55" stroke="#6e6e6e" stroke-width="0.8" />
<line x1="294.20" y1="344.98" x2="296.00" y2="344.98" stroke="#6e6e6e" stroke-width="0.8" />
<line x1="294.20" y1="341.97" x2="296.00" y2="341.97" stroke="#6e6e6e" stroke-width="0.8" />
<line x1="294.20" y1="339.36" x2="296.00" y2="339.36" stroke="#6e6e6e" stroke-width="0.8" />
<line x1="294.20" y1="337.06" x2="296.00" y2="337.06" stroke="#6e6e6e" stroke-width="0.8" />
<text x="293.40" y="382.90" font-size="9.2" text-anchor="end" fill="#231f20">0</text>
<line x1="292.00" y1="381.30" x2="296.00" y2="381.30" stroke="#6e6e6e" stroke-width="1" />
<line x1="296.00" y1="381.30" x2="480.00" y2="381.30" stroke="#6e6e6e" stroke-width="1.2" />
<line x1="318.50" y1="381.30" x2="318.50" y2="384.90" stroke="#8a8a8a" stroke-width="1" />
<text x="323.10" y="398.40" font-size="9.2" text-anchor="middle" fill="#231f20">I</text>
<line x1="364.20" y1="381.30" x2="364.20" y2="384.90" stroke="#8a8a8a" stroke-width="1" />
<text x="370.00" y="398.40" font-size="9.2" text-anchor="middle" fill="#231f20">II</text>
<line x1="409.70" y1="381.30" x2="409.70" y2="384.90" stroke="#8a8a8a" stroke-width="1" />
<text x="416.50" y="398.40" font-size="9.2" text-anchor="middle" fill="#231f20">III</text>
<line x1="455.40" y1="381.30" x2="455.40" y2="384.90" stroke="#8a8a8a" stroke-width="1" />
<text x="459.70" y="398.40" font-size="9.2" text-anchor="middle" fill="#231f20">IV</text>
<text x="389.00" y="412.60" font-size="10.8" text-anchor="middle" fill="#231f20">Stage</text>
<text x="0" y="0" font-size="11" text-anchor="middle" fill="#231f20" transform="translate(276.40,304.30) rotate(-90)">ciRS-7 Relative to U6</text>
<line x1="315.90" y1="226.20" x2="462.00" y2="226.20" stroke="#333" stroke-width="1.3" />
<polygon points="374.30,217.04 375.17,218.80 377.11,219.08 375.70,220.45 376.03,222.38 374.30,221.47 372.57,222.38 372.90,220.45 371.49,219.08 373.43,218.80" fill="#231f20"/>
<line x1="315.90" y1="241.90" x2="408.00" y2="241.90" stroke="#333" stroke-width="1.3" />
<polygon points="345.30,233.75 346.17,235.50 348.11,235.78 346.70,237.15 347.03,239.08 345.30,238.17 343.57,239.08 343.90,237.15 342.49,235.78 344.43,235.50" fill="#231f20"/>
<polygon points="351.40,233.75 352.27,235.50 354.21,235.78 352.80,237.15 353.13,239.08 351.40,238.17 349.67,239.08 350.00,237.15 348.59,235.78 350.53,235.50" fill="#231f20"/>
<line x1="315.90" y1="257.30" x2="356.70" y2="257.30" stroke="#333" stroke-width="1.3" />
<polygon points="327.80,249.94 328.67,251.70 330.61,251.98 329.20,253.35 329.53,255.28 327.80,254.37 326.07,255.28 326.40,253.35 324.99,251.98 326.93,251.70" fill="#231f20"/>
<polygon points="333.90,249.94 334.77,251.70 336.71,251.98 335.30,253.35 335.63,255.28 333.90,254.37 332.17,255.28 332.50,253.35 331.09,251.98 333.03,251.70" fill="#231f20"/>
<line x1="318.80" y1="290.80" x2="318.80" y2="357.10" stroke="#8a8a8a" stroke-width="1" />
<rect x="301.60" y="316.20" width="34.40" height="17.50" fill="#f50606" stroke="#d00606" stroke-width="0.9"/>
<line x1="310.30" y1="290.80" x2="327.30" y2="290.80" stroke="#8a8a8a" stroke-width="1" />
<line x1="310.30" y1="357.10" x2="327.30" y2="357.10" stroke="#8a8a8a" stroke-width="1" />
<circle cx="318.80" cy="290.80" r="1.3" fill="#fff" stroke="#5a5a5a" stroke-width="0.65"/>
<circle cx="318.80" cy="304.00" r="1.3" fill="#fff" stroke="#5a5a5a" stroke-width="0.65"/>
<circle cx="317.10" cy="306.20" r="1.3" fill="#fff" stroke="#5a5a5a" stroke-width="0.65"/>
<circle cx="318.80" cy="311.80" r="1.3" fill="#fff" stroke="#5a5a5a" stroke-width="0.65"/>
<circle cx="318.80" cy="315.50" r="1.3" fill="#fff" stroke="#5a5a5a" stroke-width="0.65"/>
<circle cx="315.40" cy="315.50" r="1.3" fill="#fff" stroke="#5a5a5a" stroke-width="0.65"/>
<circle cx="322.20" cy="315.50" r="1.3" fill="#fff" stroke="#5a5a5a" stroke-width="0.65"/>
<circle cx="317.10" cy="317.70" r="1.3" fill="#fff" stroke="#5a5a5a" stroke-width="0.65"/>
<circle cx="320.50" cy="317.70" r="1.3" fill="#fff" stroke="#5a5a5a" stroke-width="0.65"/>
<circle cx="320.50" cy="321.20" r="1.3" fill="#fff" stroke="#5a5a5a" stroke-width="0.65"/>
<circle cx="317.10" cy="321.20" r="1.3" fill="#fff" stroke="#5a5a5a" stroke-width="0.65"/>
<circle cx="313.70" cy="321.20" r="1.3" fill="#fff" stroke="#5a5a5a" stroke-width="0.65"/>
<circle cx="323.90" cy="321.20" r="1.3" fill="#fff" stroke="#5a5a5a" stroke-width="0.65"/>
<circle cx="310.30" cy="321.20" r="1.3" fill="#fff" stroke="#5a5a5a" stroke-width="0.65"/>
<circle cx="327.30" cy="321.20" r="1.3" fill="#fff" stroke="#5a5a5a" stroke-width="0.65"/>
<circle cx="320.50" cy="325.00" r="1.3" fill="#fff" stroke="#5a5a5a" stroke-width="0.65"/>
<circle cx="317.10" cy="325.00" r="1.3" fill="#fff" stroke="#5a5a5a" stroke-width="0.65"/>
<circle cx="320.50" cy="328.50" r="1.3" fill="#fff" stroke="#5a5a5a" stroke-width="0.65"/>
<circle cx="317.10" cy="328.50" r="1.3" fill="#fff" stroke="#5a5a5a" stroke-width="0.65"/>
<circle cx="318.80" cy="330.70" r="1.3" fill="#fff" stroke="#5a5a5a" stroke-width="0.65"/>
<circle cx="315.40" cy="330.70" r="1.3" fill="#fff" stroke="#5a5a5a" stroke-width="0.65"/>
<circle cx="320.50" cy="333.50" r="1.3" fill="#fff" stroke="#5a5a5a" stroke-width="0.65"/>
<circle cx="317.10" cy="333.50" r="1.3" fill="#fff" stroke="#5a5a5a" stroke-width="0.65"/>
<circle cx="318.80" cy="336.50" r="1.3" fill="#fff" stroke="#5a5a5a" stroke-width="0.65"/>
<circle cx="315.40" cy="336.50" r="1.3" fill="#fff" stroke="#5a5a5a" stroke-width="0.65"/>
<circle cx="317.10" cy="338.70" r="1.3" fill="#fff" stroke="#5a5a5a" stroke-width="0.65"/>
<circle cx="318.80" cy="351.50" r="1.3" fill="#fff" stroke="#5a5a5a" stroke-width="0.65"/>
<circle cx="318.80" cy="357.10" r="1.3" fill="#fff" stroke="#5a5a5a" stroke-width="0.65"/>
<line x1="364.20" y1="293.30" x2="364.20" y2="344.20" stroke="#8a8a8a" stroke-width="1" />
<rect x="347.10" y="305.20" width="34.20" height="16.00" fill="#f50606" stroke="#d00606" stroke-width="0.9"/>
<line x1="355.70" y1="293.30" x2="372.70" y2="293.30" stroke="#8a8a8a" stroke-width="1" />
<line x1="355.70" y1="344.20" x2="372.70" y2="344.20" stroke="#8a8a8a" stroke-width="1" />
<circle cx="364.20" cy="270.20" r="1.3" fill="#fff" stroke="#5a5a5a" stroke-width="0.65"/>
<circle cx="365.90" cy="274.60" r="1.3" fill="#fff" stroke="#5a5a5a" stroke-width="0.65"/>
<circle cx="362.50" cy="274.60" r="1.3" fill="#fff" stroke="#5a5a5a" stroke-width="0.65"/>
<circle cx="364.20" cy="293.30" r="1.3" fill="#fff" stroke="#5a5a5a" stroke-width="0.65"/>
<circle cx="365.90" cy="295.80" r="1.3" fill="#fff" stroke="#5a5a5a" stroke-width="0.65"/>
<circle cx="362.50" cy="295.80" r="1.3" fill="#fff" stroke="#5a5a5a" stroke-width="0.65"/>
<circle cx="364.20" cy="298.40" r="1.3" fill="#fff" stroke="#5a5a5a" stroke-width="0.65"/>
<circle cx="362.50" cy="301.00" r="1.3" fill="#fff" stroke="#5a5a5a" stroke-width="0.65"/>
<circle cx="365.90" cy="301.00" r="1.3" fill="#fff" stroke="#5a5a5a" stroke-width="0.65"/>
<circle cx="364.20" cy="303.60" r="1.3" fill="#fff" stroke="#5a5a5a" stroke-width="0.65"/>
<circle cx="360.80" cy="303.60" r="1.3" fill="#fff" stroke="#5a5a5a" stroke-width="0.65"/>
<circle cx="367.60" cy="303.60" r="1.3" fill="#fff" stroke="#5a5a5a" stroke-width="0.65"/>
<circle cx="362.50" cy="306.20" r="1.3" fill="#fff" stroke="#5a5a5a" stroke-width="0.65"/>
<circle cx="365.90" cy="306.20" r="1.3" fill="#fff" stroke="#5a5a5a" stroke-width="0.65"/>
<circle cx="364.20" cy="308.80" r="1.3" fill="#fff" stroke="#5a5a5a" stroke-width="0.65"/>
<circle cx="367.60" cy="308.80" r="1.3" fill="#fff" stroke="#5a5a5a" stroke-width="0.65"/>
<circle cx="360.80" cy="308.80" r="1.3" fill="#fff" stroke="#5a5a5a" stroke-width="0.65"/>
<circle cx="365.90" cy="311.40" r="1.3" fill="#fff" stroke="#5a5a5a" stroke-width="0.65"/>
<circle cx="362.50" cy="311.40" r="1.3" fill="#fff" stroke="#5a5a5a" stroke-width="0.65"/>
<circle cx="364.20" cy="314.00" r="1.3" fill="#fff" stroke="#5a5a5a" stroke-width="0.65"/>
<circle cx="367.60" cy="314.00" r="1.3" fill="#fff" stroke="#5a5a5a" stroke-width="0.65"/>
<circle cx="360.80" cy="314.00" r="1.3" fill="#fff" stroke="#5a5a5a" stroke-width="0.65"/>
<circle cx="357.40" cy="314.00" r="1.3" fill="#fff" stroke="#5a5a5a" stroke-width="0.65"/>
<circle cx="362.50" cy="316.60" r="1.3" fill="#fff" stroke="#5a5a5a" stroke-width="0.65"/>
<circle cx="365.90" cy="316.60" r="1.3" fill="#fff" stroke="#5a5a5a" stroke-width="0.65"/>
<circle cx="359.10" cy="316.60" r="1.3" fill="#fff" stroke="#5a5a5a" stroke-width="0.65"/>
<circle cx="369.30" cy="316.60" r="1.3" fill="#fff" stroke="#5a5a5a" stroke-width="0.65"/>
<circle cx="355.70" cy="316.60" r="1.3" fill="#fff" stroke="#5a5a5a" stroke-width="0.65"/>
<circle cx="364.20" cy="319.20" r="1.3" fill="#fff" stroke="#5a5a5a" stroke-width="0.65"/>
<circle cx="360.80" cy="319.20" r="1.3" fill="#fff" stroke="#5a5a5a" stroke-width="0.65"/>
<circle cx="367.60" cy="319.20" r="1.3" fill="#fff" stroke="#5a5a5a" stroke-width="0.65"/>
<circle cx="371.00" cy="319.20" r="1.3" fill="#fff" stroke="#5a5a5a" stroke-width="0.65"/>
<circle cx="365.90" cy="321.80" r="1.3" fill="#fff" stroke="#5a5a5a" stroke-width="0.65"/>
<circle cx="362.50" cy="321.80" r="1.3" fill="#fff" stroke="#5a5a5a" stroke-width="0.65"/>
<circle cx="369.30" cy="321.80" r="1.3" fill="#fff" stroke="#5a5a5a" stroke-width="0.65"/>
<circle cx="364.20" cy="324.40" r="1.3" fill="#fff" stroke="#5a5a5a" stroke-width="0.65"/>
<circle cx="367.60" cy="324.40" r="1.3" fill="#fff" stroke="#5a5a5a" stroke-width="0.65"/>
<circle cx="360.80" cy="324.40" r="1.3" fill="#fff" stroke="#5a5a5a" stroke-width="0.65"/>
<circle cx="371.00" cy="324.40" r="1.3" fill="#fff" stroke="#5a5a5a" stroke-width="0.65"/>
<circle cx="365.90" cy="327.00" r="1.3" fill="#fff" stroke="#5a5a5a" stroke-width="0.65"/>
<circle cx="362.50" cy="327.00" r="1.3" fill="#fff" stroke="#5a5a5a" stroke-width="0.65"/>
<circle cx="364.20" cy="329.60" r="1.3" fill="#fff" stroke="#5a5a5a" stroke-width="0.65"/>
<circle cx="362.50" cy="332.50" r="1.3" fill="#fff" stroke="#5a5a5a" stroke-width="0.65"/>
<circle cx="364.20" cy="344.20" r="1.3" fill="#fff" stroke="#5a5a5a" stroke-width="0.65"/>
<line x1="409.80" y1="269.80" x2="409.80" y2="336.90" stroke="#8a8a8a" stroke-width="1" />
<rect x="392.70" y="299.00" width="34.20" height="20.60" fill="#f50606" stroke="#d00606" stroke-width="0.9"/>
<line x1="392.70" y1="307.70" x2="426.90" y2="307.70" stroke="#b00000" stroke-width="1.2" />
<line x1="401.30" y1="269.80" x2="418.30" y2="269.80" stroke="#8a8a8a" stroke-width="1" />
<line x1="401.30" y1="336.90" x2="418.30" y2="336.90" stroke="#8a8a8a" stroke-width="1" />
<circle cx="409.80" cy="269.80" r="1.3" fill="#fff" stroke="#5a5a5a" stroke-width="0.65"/>
<circle cx="409.80" cy="274.00" r="1.3" fill="#fff" stroke="#5a5a5a" stroke-width="0.65"/>
<circle cx="411.50" cy="276.20" r="1.3" fill="#fff" stroke="#5a5a5a" stroke-width="0.65"/>
<circle cx="409.80" cy="278.40" r="1.3" fill="#fff" stroke="#5a5a5a" stroke-width="0.65"/>
<circle cx="408.10" cy="280.60" r="1.3" fill="#fff" stroke="#5a5a5a" stroke-width="0.65"/>
<circle cx="408.10" cy="286.80" r="1.3" fill="#fff" stroke="#5a5a5a" stroke-width="0.65"/>
<circle cx="411.50" cy="286.80" r="1.3" fill="#fff" stroke="#5a5a5a" stroke-width="0.65"/>
<circle cx="411.50" cy="291.20" r="1.3" fill="#fff" stroke="#5a5a5a" stroke-width="0.65"/>
<circle cx="408.10" cy="291.20" r="1.3" fill="#fff" stroke="#5a5a5a" stroke-width="0.65"/>
<circle cx="409.80" cy="296.60" r="1.3" fill="#fff" stroke="#5a5a5a" stroke-width="0.65"/>
<circle cx="406.40" cy="296.60" r="1.3" fill="#fff" stroke="#5a5a5a" stroke-width="0.65"/>
<circle cx="413.20" cy="296.60" r="1.3" fill="#fff" stroke="#5a5a5a" stroke-width="0.65"/>
<circle cx="408.10" cy="299.20" r="1.3" fill="#fff" stroke="#5a5a5a" stroke-width="0.65"/>
<circle cx="411.50" cy="299.20" r="1.3" fill="#fff" stroke="#5a5a5a" stroke-width="0.65"/>
<circle cx="404.70" cy="299.20" r="1.3" fill="#fff" stroke="#5a5a5a" stroke-width="0.65"/>
<circle cx="414.90" cy="299.20" r="1.3" fill="#fff" stroke="#5a5a5a" stroke-width="0.65"/>
<circle cx="409.80" cy="301.70" r="1.3" fill="#fff" stroke="#5a5a5a" stroke-width="0.65"/>
<circle cx="413.20" cy="301.70" r="1.3" fill="#fff" stroke="#5a5a5a" stroke-width="0.65"/>
<circle cx="406.40" cy="301.70" r="1.3" fill="#fff" stroke="#5a5a5a" stroke-width="0.65"/>
<circle cx="416.60" cy="301.70" r="1.3" fill="#fff" stroke="#5a5a5a" stroke-width="0.65"/>
<circle cx="411.50" cy="304.20" r="1.3" fill="#fff" stroke="#5a5a5a" stroke-width="0.65"/>
<circle cx="408.10" cy="304.20" r="1.3" fill="#fff" stroke="#5a5a5a" stroke-width="0.65"/>
<circle cx="404.70" cy="304.20" r="1.3" fill="#fff" stroke="#5a5a5a" stroke-width="0.65"/>
<circle cx="414.90" cy="304.20" r="1.3" fill="#fff" stroke="#5a5a5a" stroke-width="0.65"/>
<circle cx="418.30" cy="304.20" r="1.3" fill="#fff" stroke="#5a5a5a" stroke-width="0.65"/>
<circle cx="409.80" cy="306.70" r="1.3" fill="#fff" stroke="#5a5a5a" stroke-width="0.65"/>
<circle cx="406.40" cy="306.70" r="1.3" fill="#fff" stroke="#5a5a5a" stroke-width="0.65"/>
<circle cx="413.20" cy="306.70" r="1.3" fill="#fff" stroke="#5a5a5a" stroke-width="0.65"/>
<circle cx="416.60" cy="306.70" r="1.3" fill="#fff" stroke="#5a5a5a" stroke-width="0.65"/>
<circle cx="403.00" cy="306.70" r="1.3" fill="#fff" stroke="#5a5a5a" stroke-width="0.65"/>
<circle cx="408.10" cy="309.20" r="1.3" fill="#fff" stroke="#5a5a5a" stroke-width="0.65"/>
<circle cx="411.50" cy="309.20" r="1.3" fill="#fff" stroke="#5a5a5a" stroke-width="0.65"/>
<circle cx="414.90" cy="309.20" r="1.3" fill="#fff" stroke="#5a5a5a" stroke-width="0.65"/>
<circle cx="409.80" cy="311.70" r="1.3" fill="#fff" stroke="#5a5a5a" stroke-width="0.65"/>
<circle cx="413.20" cy="311.70" r="1.3" fill="#fff" stroke="#5a5a5a" stroke-width="0.65"/>
<circle cx="406.40" cy="311.70" r="1.3" fill="#fff" stroke="#5a5a5a" stroke-width="0.65"/>
<circle cx="416.60" cy="311.70" r="1.3" fill="#fff" stroke="#5a5a5a" stroke-width="0.65"/>
<circle cx="408.10" cy="314.20" r="1.3" fill="#fff" stroke="#5a5a5a" stroke-width="0.65"/>
<circle cx="411.50" cy="314.20" r="1.3" fill="#fff" stroke="#5a5a5a" stroke-width="0.65"/>
<circle cx="404.70" cy="314.20" r="1.3" fill="#fff" stroke="#5a5a5a" stroke-width="0.65"/>
<circle cx="414.90" cy="314.20" r="1.3" fill="#fff" stroke="#5a5a5a" stroke-width="0.65"/>
<circle cx="418.30" cy="314.20" r="1.3" fill="#fff" stroke="#5a5a5a" stroke-width="0.65"/>
<circle cx="409.80" cy="316.70" r="1.3" fill="#fff" stroke="#5a5a5a" stroke-width="0.65"/>
<circle cx="406.40" cy="316.70" r="1.3" fill="#fff" stroke="#5a5a5a" stroke-width="0.65"/>
<circle cx="413.20" cy="316.70" r="1.3" fill="#fff" stroke="#5a5a5a" stroke-width="0.65"/>
<circle cx="416.60" cy="316.70" r="1.3" fill="#fff" stroke="#5a5a5a" stroke-width="0.65"/>
<circle cx="408.10" cy="319.20" r="1.3" fill="#fff" stroke="#5a5a5a" stroke-width="0.65"/>
<circle cx="411.50" cy="319.20" r="1.3" fill="#fff" stroke="#5a5a5a" stroke-width="0.65"/>
<circle cx="404.70" cy="319.20" r="1.3" fill="#fff" stroke="#5a5a5a" stroke-width="0.65"/>
<circle cx="409.80" cy="321.70" r="1.3" fill="#fff" stroke="#5a5a5a" stroke-width="0.65"/>
<circle cx="413.20" cy="321.70" r="1.3" fill="#fff" stroke="#5a5a5a" stroke-width="0.65"/>
<circle cx="406.40" cy="321.70" r="1.3" fill="#fff" stroke="#5a5a5a" stroke-width="0.65"/>
<circle cx="403.00" cy="321.70" r="1.3" fill="#fff" stroke="#5a5a5a" stroke-width="0.65"/>
<circle cx="408.10" cy="324.20" r="1.3" fill="#fff" stroke="#5a5a5a" stroke-width="0.65"/>
<circle cx="411.50" cy="324.20" r="1.3" fill="#fff" stroke="#5a5a5a" stroke-width="0.65"/>
<circle cx="404.70" cy="324.20" r="1.3" fill="#fff" stroke="#5a5a5a" stroke-width="0.65"/>
<circle cx="409.80" cy="326.70" r="1.3" fill="#fff" stroke="#5a5a5a" stroke-width="0.65"/>
<circle cx="406.40" cy="326.70" r="1.3" fill="#fff" stroke="#5a5a5a" stroke-width="0.65"/>
<circle cx="411.50" cy="329.20" r="1.3" fill="#fff" stroke="#5a5a5a" stroke-width="0.65"/>
<circle cx="408.10" cy="329.20" r="1.3" fill="#fff" stroke="#5a5a5a" stroke-width="0.65"/>
<circle cx="409.80" cy="331.70" r="1.3" fill="#fff" stroke="#5a5a5a" stroke-width="0.65"/>
<circle cx="413.20" cy="331.70" r="1.3" fill="#fff" stroke="#5a5a5a" stroke-width="0.65"/>
<circle cx="411.50" cy="334.30" r="1.3" fill="#fff" stroke="#5a5a5a" stroke-width="0.65"/>
<circle cx="409.80" cy="336.90" r="1.3" fill="#fff" stroke="#5a5a5a" stroke-width="0.65"/>
<line x1="455.50" y1="269.20" x2="455.50" y2="329.80" stroke="#8a8a8a" stroke-width="1" />
<rect x="438.50" y="296.50" width="34.00" height="17.90" fill="#f50606" stroke="#d00606" stroke-width="0.9"/>
<line x1="438.50" y1="306.70" x2="472.50" y2="306.70" stroke="#b00000" stroke-width="1.2" />
<line x1="447.00" y1="269.20" x2="464.00" y2="269.20" stroke="#8a8a8a" stroke-width="1" />
<line x1="447.00" y1="329.80" x2="464.00" y2="329.80" stroke="#8a8a8a" stroke-width="1" />
<circle cx="455.50" cy="261.00" r="1.3" fill="#fff" stroke="#5a5a5a" stroke-width="0.65"/>
<circle cx="455.50" cy="269.20" r="1.3" fill="#fff" stroke="#5a5a5a" stroke-width="0.65"/>
<circle cx="455.50" cy="279.40" r="1.3" fill="#fff" stroke="#5a5a5a" stroke-width="0.65"/>
<circle cx="453.80" cy="282.00" r="1.3" fill="#fff" stroke="#5a5a5a" stroke-width="0.65"/>
<circle cx="457.20" cy="282.00" r="1.3" fill="#fff" stroke="#5a5a5a" stroke-width="0.65"/>
<circle cx="455.50" cy="289.00" r="1.3" fill="#fff" stroke="#5a5a5a" stroke-width="0.65"/>
<circle cx="457.20" cy="291.50" r="1.3" fill="#fff" stroke="#5a5a5a" stroke-width="0.65"/>
<circle cx="453.80" cy="291.50" r="1.3" fill="#fff" stroke="#5a5a5a" stroke-width="0.65"/>
<circle cx="455.50" cy="293.70" r="1.3" fill="#fff" stroke="#5a5a5a" stroke-width="0.65"/>
<circle cx="458.90" cy="293.70" r="1.3" fill="#fff" stroke="#5a5a5a" stroke-width="0.65"/>
<circle cx="457.20" cy="296.00" r="1.3" fill="#fff" stroke="#5a5a5a" stroke-width="0.65"/>
<circle cx="453.80" cy="296.00" r="1.3" fill="#fff" stroke="#5a5a5a" stroke-width="0.65"/>
<circle cx="455.50" cy="298.30" r="1.3" fill="#fff" stroke="#5a5a5a" stroke-width="0.65"/>
<circle cx="458.90" cy="298.30" r="1.3" fill="#fff" stroke="#5a5a5a" stroke-width="0.65"/>
<circle cx="453.80" cy="300.60" r="1.3" fill="#fff" stroke="#5a5a5a" stroke-width="0.65"/>
<circle cx="457.20" cy="300.60" r="1.3" fill="#fff" stroke="#5a5a5a" stroke-width="0.65"/>
<circle cx="455.50" cy="303.00" r="1.3" fill="#fff" stroke="#5a5a5a" stroke-width="0.65"/>
<circle cx="452.10" cy="303.00" r="1.3" fill="#fff" stroke="#5a5a5a" stroke-width="0.65"/>
<circle cx="457.20" cy="305.20" r="1.3" fill="#fff" stroke="#5a5a5a" stroke-width="0.65"/>
<circle cx="453.80" cy="305.20" r="1.3" fill="#fff" stroke="#5a5a5a" stroke-width="0.65"/>
<circle cx="450.40" cy="305.20" r="1.3" fill="#fff" stroke="#5a5a5a" stroke-width="0.65"/>
<circle cx="455.50" cy="307.40" r="1.3" fill="#fff" stroke="#5a5a5a" stroke-width="0.65"/>
<circle cx="458.90" cy="307.40" r="1.3" fill="#fff" stroke="#5a5a5a" stroke-width="0.65"/>
<circle cx="452.10" cy="307.40" r="1.3" fill="#fff" stroke="#5a5a5a" stroke-width="0.65"/>
<circle cx="448.70" cy="307.40" r="1.3" fill="#fff" stroke="#5a5a5a" stroke-width="0.65"/>
<circle cx="462.30" cy="307.40" r="1.3" fill="#fff" stroke="#5a5a5a" stroke-width="0.65"/>
<circle cx="445.30" cy="307.40" r="1.3" fill="#fff" stroke="#5a5a5a" stroke-width="0.65"/>
<circle cx="457.20" cy="309.60" r="1.3" fill="#fff" stroke="#5a5a5a" stroke-width="0.65"/>
<circle cx="453.80" cy="309.60" r="1.3" fill="#fff" stroke="#5a5a5a" stroke-width="0.65"/>
<circle cx="450.40" cy="309.60" r="1.3" fill="#fff" stroke="#5a5a5a" stroke-width="0.65"/>
<circle cx="460.60" cy="309.60" r="1.3" fill="#fff" stroke="#5a5a5a" stroke-width="0.65"/>
<circle cx="455.50" cy="312.00" r="1.3" fill="#fff" stroke="#5a5a5a" stroke-width="0.65"/>
<circle cx="452.10" cy="312.00" r="1.3" fill="#fff" stroke="#5a5a5a" stroke-width="0.65"/>
<circle cx="458.90" cy="312.00" r="1.3" fill="#fff" stroke="#5a5a5a" stroke-width="0.65"/>
<circle cx="457.20" cy="314.80" r="1.3" fill="#fff" stroke="#5a5a5a" stroke-width="0.65"/>
<circle cx="453.80" cy="314.80" r="1.3" fill="#fff" stroke="#5a5a5a" stroke-width="0.65"/>
<circle cx="460.60" cy="314.80" r="1.3" fill="#fff" stroke="#5a5a5a" stroke-width="0.65"/>
<circle cx="450.40" cy="314.80" r="1.3" fill="#fff" stroke="#5a5a5a" stroke-width="0.65"/>
<circle cx="447.00" cy="314.80" r="1.3" fill="#fff" stroke="#5a5a5a" stroke-width="0.65"/>
<circle cx="455.50" cy="317.30" r="1.3" fill="#fff" stroke="#5a5a5a" stroke-width="0.65"/>
<circle cx="458.90" cy="317.30" r="1.3" fill="#fff" stroke="#5a5a5a" stroke-width="0.65"/>
<circle cx="452.10" cy="317.30" r="1.3" fill="#fff" stroke="#5a5a5a" stroke-width="0.65"/>
<circle cx="448.70" cy="317.30" r="1.3" fill="#fff" stroke="#5a5a5a" stroke-width="0.65"/>
<circle cx="453.80" cy="319.80" r="1.3" fill="#fff" stroke="#5a5a5a" stroke-width="0.65"/>
<circle cx="457.20" cy="319.80" r="1.3" fill="#fff" stroke="#5a5a5a" stroke-width="0.65"/>
<circle cx="450.40" cy="319.80" r="1.3" fill="#fff" stroke="#5a5a5a" stroke-width="0.65"/>
<circle cx="455.50" cy="322.30" r="1.3" fill="#fff" stroke="#5a5a5a" stroke-width="0.65"/>
<circle cx="458.90" cy="322.30" r="1.3" fill="#fff" stroke="#5a5a5a" stroke-width="0.65"/>
<circle cx="457.20" cy="324.80" r="1.3" fill="#fff" stroke="#5a5a5a" stroke-width="0.65"/>
<circle cx="455.50" cy="329.80" r="1.3" fill="#fff" stroke="#5a5a5a" stroke-width="0.65"/>
<circle cx="455.50" cy="348.50" r="1.3" fill="#fff" stroke="#5a5a5a" stroke-width="0.65"/>
<text x="1.00" y="437.00" font-size="12.5" font-weight="bold" fill="#231f20">E</text>
<line x1="42.20" y1="446.40" x2="42.20" y2="579.00" stroke="#3c3c3c" stroke-width="1.2" />
<line x1="42.20" y1="579.00" x2="241.00" y2="579.00" stroke="#3c3c3c" stroke-width="1.2" />
<line x1="38.90" y1="447.90" x2="42.20" y2="447.90" stroke="#3c3c3c" stroke-width="1" />
<text x="36.20" y="451.10" font-size="8.9" text-anchor="end" fill="#231f20">100</text>
<line x1="38.90" y1="480.50" x2="42.20" y2="480.50" stroke="#3c3c3c" stroke-width="1" />
<text x="36.20" y="483.70" font-size="8.9" text-anchor="end" fill="#231f20">80</text>
<line x1="38.90" y1="513.00" x2="42.20" y2="513.00" stroke="#3c3c3c" stroke-width="1" />
<text x="36.20" y="516.20" font-size="8.9" text-anchor="end" fill="#231f20">60</text>
<line x1="38.90" y1="545.60" x2="42.20" y2="545.60" stroke="#3c3c3c" stroke-width="1" />
<text x="36.20" y="548.80" font-size="8.9" text-anchor="end" fill="#231f20">40</text>
<line x1="38.90" y1="578.50" x2="42.20" y2="578.50" stroke="#3c3c3c" stroke-width="1" />
<text x="36.20" y="581.70" font-size="8.9" text-anchor="end" fill="#231f20">20</text>
<line x1="42.20" y1="579.00" x2="42.20" y2="582.30" stroke="#3c3c3c" stroke-width="1" />
<text x="42.20" y="592.70" font-size="8.9" text-anchor="middle" fill="#231f20">0</text>
<line x1="108.50" y1="579.00" x2="108.50" y2="582.30" stroke="#3c3c3c" stroke-width="1" />
<text x="108.50" y="592.70" font-size="8.9" text-anchor="middle" fill="#231f20">1,000</text>
<line x1="174.80" y1="579.00" x2="174.80" y2="582.30" stroke="#3c3c3c" stroke-width="1" />
<text x="174.80" y="592.70" font-size="8.9" text-anchor="middle" fill="#231f20">2,000</text>
<line x1="241.00" y1="579.00" x2="241.00" y2="582.30" stroke="#3c3c3c" stroke-width="1" />
<text x="241.00" y="592.70" font-size="8.9" text-anchor="middle" fill="#231f20">3,000</text>
<path d="M42.50,448.50 H47.50 V452.50 H48.50 V455.50 H51.50 V456.50 H54.50 V458.50 H56.50 V461.50 H57.50 V462.50 H61.50 V464.50 H62.50 V466.50 H65.50 V467.50 H67.50 V470.50 H75.50 V473.50 H81.50 V478.50 H83.50 V481.50 H89.50 V483.50 H92.50 V488.50 H96.50 V490.50 H104.50 V492.50 H127.50 V497.50 H132.50 V505.50 H143.50 V514.50 H150.50 V525.50 H207.60" fill="none" stroke="#d43a48" stroke-width="1.0"/>
<line x1="98.50" y1="490.50" x2="98.50" y2="487.90" stroke="#d43a48" stroke-width="1.1" />
<line x1="100.50" y1="490.50" x2="100.50" y2="487.90" stroke="#d43a48" stroke-width="1.1" />
<line x1="106.50" y1="492.50" x2="106.50" y2="489.90" stroke="#d43a48" stroke-width="1.1" />
<line x1="107.50" y1="492.50" x2="107.50" y2="489.90" stroke="#d43a48" stroke-width="1.1" />
<line x1="111.50" y1="492.50" x2="111.50" y2="489.90" stroke="#d43a48" stroke-width="1.1" />
<line x1="113.50" y1="492.50" x2="113.50" y2="489.90" stroke="#d43a48" stroke-width="1.1" />
<line x1="115.50" y1="492.50" x2="115.50" y2="489.90" stroke="#d43a48" stroke-width="1.1" />
<line x1="120.50" y1="492.50" x2="120.50" y2="489.90" stroke="#d43a48" stroke-width="1.1" />
<line x1="122.50" y1="492.50" x2="122.50" y2="489.90" stroke="#d43a48" stroke-width="1.1" />
<line x1="130.50" y1="497.50" x2="130.50" y2="494.90" stroke="#d43a48" stroke-width="1.1" />
<line x1="134.50" y1="505.50" x2="134.50" y2="502.90" stroke="#d43a48" stroke-width="1.1" />
<line x1="139.50" y1="505.50" x2="139.50" y2="502.90" stroke="#d43a48" stroke-width="1.1" />
<line x1="146.50" y1="514.50" x2="146.50" y2="511.90" stroke="#d43a48" stroke-width="1.1" />
<line x1="167.50" y1="525.50" x2="167.50" y2="522.90" stroke="#d43a48" stroke-width="1.1" />
<line x1="172.50" y1="525.50" x2="172.50" y2="522.90" stroke="#d43a48" stroke-width="1.1" />
<line x1="177.50" y1="525.50" x2="177.50" y2="522.90" stroke="#d43a48" stroke-width="1.1" />
<line x1="197.50" y1="525.50" x2="197.50" y2="522.90" stroke="#d43a48" stroke-width="1.1" />
<line x1="206.50" y1="525.50" x2="206.50" y2="522.90" stroke="#d43a48" stroke-width="1.1" />
<path d="M42.50,448.50 H60.50 V453.50 H70.50 V455.50 H77.50 V457.50 H81.50 V460.50 H83.50 V462.50 H92.50 V467.50 H95.50 V470.50 H103.50 V472.50 H108.50 V477.50 H158.50 V483.50 H185.50 V496.50 H206.20" fill="none" stroke="#3333c2" stroke-width="1.0"/>
<line x1="101.50" y1="470.50" x2="101.50" y2="467.90" stroke="#3333c2" stroke-width="1.1" />
<line x1="102.50" y1="470.50" x2="102.50" y2="467.90" stroke="#3333c2" stroke-width="1.1" />
<line x1="112.50" y1="477.50" x2="112.50" y2="474.90" stroke="#3333c2" stroke-width="1.1" />
<line x1="115.50" y1="477.50" x2="115.50" y2="474.90" stroke="#3333c2" stroke-width="1.1" />
<line x1="117.50" y1="477.50" x2="117.50" y2="474.90" stroke="#3333c2" stroke-width="1.1" />
<line x1="119.50" y1="477.50" x2="119.50" y2="474.90" stroke="#3333c2" stroke-width="1.1" />
<line x1="126.50" y1="477.50" x2="126.50" y2="474.90" stroke="#3333c2" stroke-width="1.1" />
<line x1="127.50" y1="477.50" x2="127.50" y2="474.90" stroke="#3333c2" stroke-width="1.1" />
<line x1="129.50" y1="477.50" x2="129.50" y2="474.90" stroke="#3333c2" stroke-width="1.1" />
<line x1="131.50" y1="477.50" x2="131.50" y2="474.90" stroke="#3333c2" stroke-width="1.1" />
<line x1="135.50" y1="477.50" x2="135.50" y2="474.90" stroke="#3333c2" stroke-width="1.1" />
<line x1="138.50" y1="477.50" x2="138.50" y2="474.90" stroke="#3333c2" stroke-width="1.1" />
<line x1="140.50" y1="477.50" x2="140.50" y2="474.90" stroke="#3333c2" stroke-width="1.1" />
<line x1="142.50" y1="477.50" x2="142.50" y2="474.90" stroke="#3333c2" stroke-width="1.1" />
<line x1="150.50" y1="477.50" x2="150.50" y2="474.90" stroke="#3333c2" stroke-width="1.1" />
<line x1="152.50" y1="477.50" x2="152.50" y2="474.90" stroke="#3333c2" stroke-width="1.1" />
<line x1="154.50" y1="477.50" x2="154.50" y2="474.90" stroke="#3333c2" stroke-width="1.1" />
<line x1="158.50" y1="477.50" x2="158.50" y2="474.90" stroke="#3333c2" stroke-width="1.1" />
<line x1="163.50" y1="483.50" x2="163.50" y2="480.90" stroke="#3333c2" stroke-width="1.1" />
<line x1="166.50" y1="483.50" x2="166.50" y2="480.90" stroke="#3333c2" stroke-width="1.1" />
<line x1="174.50" y1="483.50" x2="174.50" y2="480.90" stroke="#3333c2" stroke-width="1.1" />
<line x1="176.50" y1="483.50" x2="176.50" y2="480.90" stroke="#3333c2" stroke-width="1.1" />
<line x1="180.50" y1="483.50" x2="180.50" y2="480.90" stroke="#3333c2" stroke-width="1.1" />
<line x1="184.50" y1="483.50" x2="184.50" y2="480.90" stroke="#3333c2" stroke-width="1.1" />
<line x1="187.50" y1="496.50" x2="187.50" y2="493.90" stroke="#3333c2" stroke-width="1.1" />
<line x1="190.50" y1="496.50" x2="190.50" y2="493.90" stroke="#3333c2" stroke-width="1.1" />
<line x1="193.50" y1="496.50" x2="193.50" y2="493.90" stroke="#3333c2" stroke-width="1.1" />
<line x1="196.50" y1="496.50" x2="196.50" y2="493.90" stroke="#3333c2" stroke-width="1.1" />
<line x1="199.50" y1="496.50" x2="199.50" y2="493.90" stroke="#3333c2" stroke-width="1.1" />
<line x1="204.50" y1="496.50" x2="204.50" y2="493.90" stroke="#3333c2" stroke-width="1.1" />
<line x1="206.50" y1="496.50" x2="206.50" y2="493.90" stroke="#3333c2" stroke-width="1.1" />
<text x="0" y="0" font-size="10.6" text-anchor="middle" fill="#231f20" transform="translate(21.80,518.50) rotate(-90)">OS%</text>
<text x="146.00" y="608.20" font-size="10.8" text-anchor="middle" fill="#231f20">Days after surgery</text>
<line x1="160.60" y1="439.40" x2="174.60" y2="439.40" stroke="#3333c2" stroke-width="1.2" />
<line x1="167.60" y1="439.40" x2="167.60" y2="437.20" stroke="#3333c2" stroke-width="0.9" />
<text x="178.80" y="442.00" font-size="10.8" fill="#231f20">Low (<tspan font-style="italic">n</tspan> = 77)</text>
<line x1="160.60" y1="454.80" x2="174.60" y2="454.80" stroke="#d43a48" stroke-width="1.2" />
<line x1="167.60" y1="454.80" x2="167.60" y2="452.60" stroke="#d43a48" stroke-width="0.9" />
<text x="178.80" y="459.60" font-size="10.8" fill="#231f20">High (<tspan font-style="italic">n</tspan> = 76)</text>
<polygon points="51.80,550.69 52.36,551.82 53.61,552.00 52.70,552.88 52.92,554.13 51.80,553.54 50.68,554.13 50.90,552.88 49.99,552.00 51.24,551.82" fill="#231f20"/>
<text x="54.2" y="558.6" font-size="11" fill="#231f20" font-weight="bold"><tspan font-style="italic">P</tspan> = 0.0224</text>
<text x="50.60" y="571.70" font-size="10.8" fill="#231f20">HR = 2.07</text>
<text x="267.00" y="437.00" font-size="12.5" font-weight="bold" fill="#231f20">F</text>
<line x1="295.80" y1="445.50" x2="295.80" y2="578.60" stroke="#3c3c3c" stroke-width="1.2" />
<line x1="295.80" y1="578.60" x2="494.00" y2="578.60" stroke="#3c3c3c" stroke-width="1.2" />
<line x1="292.50" y1="447.00" x2="295.80" y2="447.00" stroke="#3c3c3c" stroke-width="1" />
<text x="290.40" y="450.20" font-size="8.9" text-anchor="end" fill="#231f20">100</text>
<line x1="292.50" y1="480.30" x2="295.80" y2="480.30" stroke="#3c3c3c" stroke-width="1" />
<text x="290.40" y="483.50" font-size="8.9" text-anchor="end" fill="#231f20">80</text>
<line x1="292.50" y1="513.10" x2="295.80" y2="513.10" stroke="#3c3c3c" stroke-width="1" />
<text x="290.40" y="516.30" font-size="8.9" text-anchor="end" fill="#231f20">60</text>
<line x1="292.50" y1="546.10" x2="295.80" y2="546.10" stroke="#3c3c3c" stroke-width="1" />
<text x="290.40" y="549.30" font-size="8.9" text-anchor="end" fill="#231f20">40</text>
<line x1="292.50" y1="578.60" x2="295.80" y2="578.60" stroke="#3c3c3c" stroke-width="1" />
<text x="290.40" y="581.80" font-size="8.9" text-anchor="end" fill="#231f20">20</text>
<line x1="296.00" y1="578.60" x2="296.00" y2="581.90" stroke="#3c3c3c" stroke-width="1" />
<text x="296.00" y="592.70" font-size="8.9" text-anchor="middle" fill="#231f20">0</text>
<line x1="345.50" y1="578.60" x2="345.50" y2="581.90" stroke="#3c3c3c" stroke-width="1" />
<text x="345.50" y="592.70" font-size="8.9" text-anchor="middle" fill="#231f20">1,000</text>
<line x1="395.00" y1="578.60" x2="395.00" y2="581.90" stroke="#3c3c3c" stroke-width="1" />
<text x="395.00" y="592.70" font-size="8.9" text-anchor="middle" fill="#231f20">2,000</text>
<line x1="444.50" y1="578.60" x2="444.50" y2="581.90" stroke="#3c3c3c" stroke-width="1" />
<text x="444.50" y="592.70" font-size="8.9" text-anchor="middle" fill="#231f20">3,000</text>
<line x1="494.00" y1="578.60" x2="494.00" y2="581.90" stroke="#3c3c3c" stroke-width="1" />
<text x="494.00" y="592.70" font-size="8.9" text-anchor="middle" fill="#231f20">4,000</text>
<path d="M296.50,447.50 H299.50 V448.50 H301.50 V449.50 H302.50 V453.50 H306.50 V454.50 H308.50 V456.50 H311.50 V457.50 H313.50 V459.50 H314.50 V461.50 H316.50 V463.50 H319.50 V464.50 H320.50 V467.50 H322.50 V468.50 H324.50 V470.50 H326.50 V472.50 H327.50 V474.50 H336.50 V476.50 H338.50 V479.50 H340.50 V481.50 H352.50 V484.50 H355.50 V487.50 H363.50 V489.50 H368.50 V492.50 H380.50 V495.50 H400.50 V499.50 H403.50 V504.50 H406.50 V509.50 H427.50 V519.50 H453.50 V549.50 H456.50" fill="none" stroke="#d43a48" stroke-width="1.0"/>
<line x1="304.50" y1="453.50" x2="304.50" y2="450.90" stroke="#d43a48" stroke-width="1.1" />
<line x1="307.50" y1="454.50" x2="307.50" y2="451.90" stroke="#d43a48" stroke-width="1.1" />
<line x1="310.50" y1="456.50" x2="310.50" y2="453.90" stroke="#d43a48" stroke-width="1.1" />
<line x1="313.50" y1="457.50" x2="313.50" y2="454.90" stroke="#d43a48" stroke-width="1.1" />
<line x1="330.50" y1="474.50" x2="330.50" y2="471.90" stroke="#d43a48" stroke-width="1.1" />
<line x1="332.50" y1="474.50" x2="332.50" y2="471.90" stroke="#d43a48" stroke-width="1.1" />
<line x1="335.50" y1="474.50" x2="335.50" y2="471.90" stroke="#d43a48" stroke-width="1.1" />
<line x1="345.50" y1="481.50" x2="345.50" y2="478.90" stroke="#d43a48" stroke-width="1.1" />
<line x1="349.50" y1="481.50" x2="349.50" y2="478.90" stroke="#d43a48" stroke-width="1.1" />
<line x1="357.50" y1="487.50" x2="357.50" y2="484.90" stroke="#d43a48" stroke-width="1.1" />
<line x1="360.50" y1="487.50" x2="360.50" y2="484.90" stroke="#d43a48" stroke-width="1.1" />
<line x1="367.50" y1="489.50" x2="367.50" y2="486.90" stroke="#d43a48" stroke-width="1.1" />
<line x1="375.50" y1="492.50" x2="375.50" y2="489.90" stroke="#d43a48" stroke-width="1.1" />
<line x1="378.50" y1="492.50" x2="378.50" y2="489.90" stroke="#d43a48" stroke-width="1.1" />
<line x1="385.50" y1="495.50" x2="385.50" y2="492.90" stroke="#d43a48" stroke-width="1.1" />
<line x1="388.50" y1="495.50" x2="388.50" y2="492.90" stroke="#d43a48" stroke-width="1.1" />
<line x1="390.50" y1="495.50" x2="390.50" y2="492.90" stroke="#d43a48" stroke-width="1.1" />
<line x1="394.50" y1="495.50" x2="394.50" y2="492.90" stroke="#d43a48" stroke-width="1.1" />
<line x1="397.50" y1="495.50" x2="397.50" y2="492.90" stroke="#d43a48" stroke-width="1.1" />
<line x1="414.50" y1="509.50" x2="414.50" y2="506.90" stroke="#d43a48" stroke-width="1.1" />
<line x1="420.50" y1="509.50" x2="420.50" y2="506.90" stroke="#d43a48" stroke-width="1.1" />
<line x1="424.50" y1="509.50" x2="424.50" y2="506.90" stroke="#d43a48" stroke-width="1.1" />
<line x1="435.50" y1="519.50" x2="435.50" y2="516.90" stroke="#d43a48" stroke-width="1.1" />
<line x1="440.50" y1="519.50" x2="440.50" y2="516.90" stroke="#d43a48" stroke-width="1.1" />
<line x1="442.50" y1="519.50" x2="442.50" y2="516.90" stroke="#d43a48" stroke-width="1.1" />
<line x1="444.50" y1="519.50" x2="444.50" y2="516.90" stroke="#d43a48" stroke-width="1.1" />
<line x1="446.50" y1="519.50" x2="446.50" y2="516.90" stroke="#d43a48" stroke-width="1.1" />
<line x1="452.50" y1="519.50" x2="452.50" y2="516.90" stroke="#d43a48" stroke-width="1.1" />
<line x1="455.50" y1="549.50" x2="455.50" y2="546.90" stroke="#d43a48" stroke-width="1.1" />
<path d="M296.50,447.50 H300.50 V448.50 H305.50 V451.50 H315.50 V453.50 H317.50 V454.50 H320.50 V457.50 H328.50 V459.50 H359.50 V463.50 H381.50 V470.50 H392.50 V472.50 H394.50 V473.50 H481.90" fill="none" stroke="#3333c2" stroke-width="1.0"/>
<line x1="297.50" y1="447.50" x2="297.50" y2="444.90" stroke="#3333c2" stroke-width="1.1" />
<line x1="303.50" y1="448.50" x2="303.50" y2="445.90" stroke="#3333c2" stroke-width="1.1" />
<line x1="310.50" y1="451.50" x2="310.50" y2="448.90" stroke="#3333c2" stroke-width="1.1" />
<line x1="312.50" y1="451.50" x2="312.50" y2="448.90" stroke="#3333c2" stroke-width="1.1" />
<line x1="330.50" y1="459.50" x2="330.50" y2="456.90" stroke="#3333c2" stroke-width="1.1" />
<line x1="336.50" y1="459.50" x2="336.50" y2="456.90" stroke="#3333c2" stroke-width="1.1" />
<line x1="343.50" y1="459.50" x2="343.50" y2="456.90" stroke="#3333c2" stroke-width="1.1" />
<line x1="346.50" y1="459.50" x2="346.50" y2="456.90" stroke="#3333c2" stroke-width="1.1" />
<line x1="348.50" y1="459.50" x2="348.50" y2="456.90" stroke="#3333c2" stroke-width="1.1" />
<line x1="351.50" y1="459.50" x2="351.50" y2="456.90" stroke="#3333c2" stroke-width="1.1" />
<line x1="358.50" y1="459.50" x2="358.50" y2="456.90" stroke="#3333c2" stroke-width="1.1" />
<line x1="369.50" y1="463.50" x2="369.50" y2="460.90" stroke="#3333c2" stroke-width="1.1" />
<line x1="386.50" y1="470.50" x2="386.50" y2="467.90" stroke="#3333c2" stroke-width="1.1" />
<line x1="388.50" y1="470.50" x2="388.50" y2="467.90" stroke="#3333c2" stroke-width="1.1" />
<line x1="396.50" y1="473.50" x2="396.50" y2="470.90" stroke="#3333c2" stroke-width="1.1" />
<line x1="399.50" y1="473.50" x2="399.50" y2="470.90" stroke="#3333c2" stroke-width="1.1" />
<line x1="403.50" y1="473.50" x2="403.50" y2="470.90" stroke="#3333c2" stroke-width="1.1" />
<line x1="405.50" y1="473.50" x2="405.50" y2="470.90" stroke="#3333c2" stroke-width="1.1" />
<line x1="407.50" y1="473.50" x2="407.50" y2="470.90" stroke="#3333c2" stroke-width="1.1" />
<line x1="409.50" y1="473.50" x2="409.50" y2="470.90" stroke="#3333c2" stroke-width="1.1" />
<line x1="415.50" y1="473.50" x2="415.50" y2="470.90" stroke="#3333c2" stroke-width="1.1" />
<line x1="418.50" y1="473.50" x2="418.50" y2="470.90" stroke="#3333c2" stroke-width="1.1" />
<line x1="420.50" y1="473.50" x2="420.50" y2="470.90" stroke="#3333c2" stroke-width="1.1" />
<line x1="426.50" y1="473.50" x2="426.50" y2="470.90" stroke="#3333c2" stroke-width="1.1" />
<line x1="428.50" y1="473.50" x2="428.50" y2="470.90" stroke="#3333c2" stroke-width="1.1" />
<line x1="430.50" y1="473.50" x2="430.50" y2="470.90" stroke="#3333c2" stroke-width="1.1" />
<line x1="432.50" y1="473.50" x2="432.50" y2="470.90" stroke="#3333c2" stroke-width="1.1" />
<line x1="437.50" y1="473.50" x2="437.50" y2="470.90" stroke="#3333c2" stroke-width="1.1" />
<line x1="445.50" y1="473.50" x2="445.50" y2="470.90" stroke="#3333c2" stroke-width="1.1" />
<line x1="452.50" y1="473.50" x2="452.50" y2="470.90" stroke="#3333c2" stroke-width="1.1" />
<line x1="455.50" y1="473.50" x2="455.50" y2="470.90" stroke="#3333c2" stroke-width="1.1" />
<line x1="460.50" y1="473.50" x2="460.50" y2="470.90" stroke="#3333c2" stroke-width="1.1" />
<line x1="481.50" y1="473.50" x2="481.50" y2="470.90" stroke="#3333c2" stroke-width="1.1" />
<text x="0" y="0" font-size="12.4" text-anchor="middle" fill="#231f20" transform="translate(275.30,510.00) rotate(-90)">OS%</text>
<text x="403.30" y="607.30" font-size="10.8" text-anchor="middle" fill="#231f20">Days after surgery</text>
<line x1="408.70" y1="437.50" x2="423.10" y2="437.50" stroke="#3333c2" stroke-width="1.2" />
<line x1="415.90" y1="437.50" x2="415.90" y2="435.30" stroke="#3333c2" stroke-width="0.9" />
<text x="428.80" y="439.50" font-size="10.8" fill="#231f20">Low (<tspan font-style="italic">n</tspan> = 76)</text>
<line x1="408.70" y1="452.50" x2="423.10" y2="452.50" stroke="#d43a48" stroke-width="1.2" />
<line x1="415.90" y1="452.50" x2="415.90" y2="450.30" stroke="#d43a48" stroke-width="0.9" />
<text x="428.80" y="457.80" font-size="10.8" fill="#231f20">High (<tspan font-style="italic">n</tspan> = 89)</text>
<polygon points="305.80,550.89 306.36,552.02 307.61,552.20 306.70,553.08 306.92,554.33 305.80,553.74 304.68,554.33 304.90,553.08 303.99,552.20 305.24,552.02" fill="#231f20"/>
<polygon points="309.60,550.89 310.16,552.02 311.41,552.20 310.50,553.08 310.72,554.33 309.60,553.74 308.48,554.33 308.70,553.08 307.79,552.20 309.04,552.02" fill="#231f20"/>
<text x="311.8" y="558.9" font-size="11" fill="#231f20" font-weight="bold"><tspan font-style="italic">P</tspan> = 0.0061</text>
<text x="304.40" y="572.00" font-size="10.8" fill="#231f20">HR = 2.69</text>
</svg>
</body></html>
